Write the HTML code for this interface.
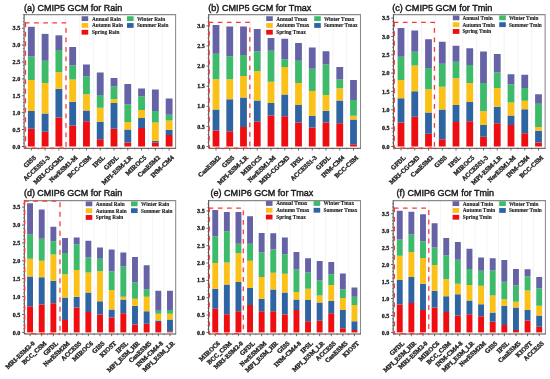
<!DOCTYPE html>
<html><head><meta charset="utf-8"><title>CMIP GCM stacked bars</title>
<style>
html,body{margin:0;padding:0;background:#fff;}
body{width:550px;height:379px;overflow:hidden;}
svg{display:block;will-change:transform;filter:blur(0.25px);}
.tk{font-family:"Liberation Serif",serif;font-weight:bold;font-size:6.1px;fill:#222;stroke:#222;stroke-width:0.3px;}
.xl{font-family:"Liberation Serif",serif;font-weight:bold;font-size:6.15px;fill:#2c2c2c;text-anchor:end;stroke:#2c2c2c;stroke-width:0.4px;}
.lg{font-family:"Liberation Serif",serif;font-weight:bold;font-size:5.7px;fill:#222;stroke:#222;stroke-width:0.12px;}
.ti{font-family:"Liberation Sans",sans-serif;font-size:8.6px;fill:#151515;stroke:#151515;stroke-width:0.38px;}
</style></head><body>
<svg width="550" height="379" viewBox="0 0 550 379">
<rect width="550" height="379" fill="#fff"/>
<line x1="38.21" y1="14.6" x2="38.21" y2="148.3" stroke="#ececec" stroke-width="0.6"/>
<line x1="51.99" y1="14.6" x2="51.99" y2="148.3" stroke="#ececec" stroke-width="0.6"/>
<line x1="65.77" y1="14.6" x2="65.77" y2="148.3" stroke="#ececec" stroke-width="0.6"/>
<line x1="79.55" y1="14.6" x2="79.55" y2="148.3" stroke="#ececec" stroke-width="0.6"/>
<line x1="93.33" y1="14.6" x2="93.33" y2="148.3" stroke="#ececec" stroke-width="0.6"/>
<line x1="107.11" y1="14.6" x2="107.11" y2="148.3" stroke="#ececec" stroke-width="0.6"/>
<line x1="120.89" y1="14.6" x2="120.89" y2="148.3" stroke="#ececec" stroke-width="0.6"/>
<line x1="134.68" y1="14.6" x2="134.68" y2="148.3" stroke="#ececec" stroke-width="0.6"/>
<line x1="148.46" y1="14.6" x2="148.46" y2="148.3" stroke="#ececec" stroke-width="0.6"/>
<line x1="162.24" y1="14.6" x2="162.24" y2="148.3" stroke="#ececec" stroke-width="0.6"/>
<rect x="27.9" y="128.75" width="6.85" height="17.75" fill="#ee0d10"/>
<rect x="27.9" y="111" width="6.85" height="17.75" fill="#2f64a3"/>
<rect x="27.9" y="80" width="6.85" height="31" fill="#fcc118"/>
<rect x="27.9" y="56.5" width="6.85" height="23.5" fill="#3dbb6b"/>
<rect x="27.9" y="26.8" width="6.85" height="29.7" fill="#6563a6"/>
<rect x="41.68" y="131.75" width="6.85" height="14.75" fill="#ee0d10"/>
<rect x="41.68" y="113.5" width="6.85" height="18.25" fill="#2f64a3"/>
<rect x="41.68" y="83" width="6.85" height="30.5" fill="#fcc118"/>
<rect x="41.68" y="60.75" width="6.85" height="22.25" fill="#3dbb6b"/>
<rect x="41.68" y="33.9" width="6.85" height="26.85" fill="#6563a6"/>
<rect x="55.46" y="117.5" width="6.85" height="29" fill="#ee0d10"/>
<rect x="55.46" y="88.75" width="6.85" height="28.75" fill="#2f64a3"/>
<rect x="55.46" y="72.25" width="6.85" height="16.5" fill="#fcc118"/>
<rect x="55.46" y="50" width="6.85" height="22.25" fill="#3dbb6b"/>
<rect x="55.46" y="35.3" width="6.85" height="14.7" fill="#6563a6"/>
<rect x="69.24" y="125.5" width="6.85" height="21" fill="#ee0d10"/>
<rect x="69.24" y="101.75" width="6.85" height="23.75" fill="#2f64a3"/>
<rect x="69.24" y="79.5" width="6.85" height="22.25" fill="#fcc118"/>
<rect x="69.24" y="65.5" width="6.85" height="14" fill="#3dbb6b"/>
<rect x="69.24" y="47" width="6.85" height="18.5" fill="#6563a6"/>
<rect x="83.02" y="121.25" width="6.85" height="25.25" fill="#ee0d10"/>
<rect x="83.02" y="110.5" width="6.85" height="10.75" fill="#2f64a3"/>
<rect x="83.02" y="94.25" width="6.85" height="16.25" fill="#fcc118"/>
<rect x="83.02" y="76.5" width="6.85" height="17.75" fill="#3dbb6b"/>
<rect x="83.02" y="64.5" width="6.85" height="12" fill="#6563a6"/>
<rect x="96.8" y="139.25" width="6.85" height="7.25" fill="#ee0d10"/>
<rect x="96.8" y="121.75" width="6.85" height="17.5" fill="#2f64a3"/>
<rect x="96.8" y="107.75" width="6.85" height="14" fill="#fcc118"/>
<rect x="96.8" y="95" width="6.85" height="12.75" fill="#3dbb6b"/>
<rect x="96.8" y="72.5" width="6.85" height="22.5" fill="#6563a6"/>
<rect x="110.58" y="128.75" width="6.85" height="17.75" fill="#ee0d10"/>
<rect x="110.58" y="103" width="6.85" height="25.75" fill="#2f64a3"/>
<rect x="110.58" y="99.25" width="6.85" height="3.75" fill="#fcc118"/>
<rect x="110.58" y="86.25" width="6.85" height="13" fill="#3dbb6b"/>
<rect x="110.58" y="78" width="6.85" height="8.25" fill="#6563a6"/>
<rect x="124.36" y="142.5" width="6.85" height="4" fill="#ee0d10"/>
<rect x="124.36" y="129.5" width="6.85" height="13" fill="#2f64a3"/>
<rect x="124.36" y="122" width="6.85" height="7.5" fill="#fcc118"/>
<rect x="124.36" y="104.5" width="6.85" height="17.5" fill="#3dbb6b"/>
<rect x="124.36" y="84" width="6.85" height="20.5" fill="#6563a6"/>
<rect x="138.14" y="128" width="6.85" height="18.5" fill="#ee0d10"/>
<rect x="138.14" y="118" width="6.85" height="10" fill="#2f64a3"/>
<rect x="138.14" y="110" width="6.85" height="8" fill="#fcc118"/>
<rect x="138.14" y="96.25" width="6.85" height="13.75" fill="#3dbb6b"/>
<rect x="138.14" y="88.5" width="6.85" height="7.75" fill="#6563a6"/>
<rect x="151.92" y="142.5" width="6.85" height="4" fill="#ee0d10"/>
<rect x="151.92" y="140.75" width="6.85" height="1.75" fill="#2f64a3"/>
<rect x="151.92" y="122.5" width="6.85" height="18.25" fill="#fcc118"/>
<rect x="151.92" y="111" width="6.85" height="11.5" fill="#3dbb6b"/>
<rect x="151.92" y="89.5" width="6.85" height="21.5" fill="#6563a6"/>
<rect x="165.7" y="135" width="6.85" height="11.5" fill="#ee0d10"/>
<rect x="165.7" y="129.75" width="6.85" height="5.25" fill="#2f64a3"/>
<rect x="165.7" y="120.5" width="6.85" height="9.25" fill="#fcc118"/>
<rect x="165.7" y="114.75" width="6.85" height="5.75" fill="#3dbb6b"/>
<rect x="165.7" y="98.5" width="6.85" height="16.25" fill="#6563a6"/>
<path d="M24.1 14.6H175.6V148.3" fill="none" stroke="#8a8a8a" stroke-width="1.05"/>
<path d="M24.1 14.1V148.3H176.1" fill="none" stroke="#4a4a4a" stroke-width="1"/>
<line x1="21.9" y1="146.5" x2="24.1" y2="146.5" stroke="#444" stroke-width="0.8"/>
<text x="12.6" y="148.6" class="tk" textLength="7.6" lengthAdjust="spacingAndGlyphs">0.0</text>
<line x1="21.9" y1="129.6" x2="24.1" y2="129.6" stroke="#444" stroke-width="0.8"/>
<text x="12.6" y="131.7" class="tk" textLength="7.6" lengthAdjust="spacingAndGlyphs">0.5</text>
<line x1="21.9" y1="112.7" x2="24.1" y2="112.7" stroke="#444" stroke-width="0.8"/>
<text x="12.6" y="114.8" class="tk" textLength="7.6" lengthAdjust="spacingAndGlyphs">1.0</text>
<line x1="21.9" y1="95.8" x2="24.1" y2="95.8" stroke="#444" stroke-width="0.8"/>
<text x="12.6" y="97.9" class="tk" textLength="7.6" lengthAdjust="spacingAndGlyphs">1.5</text>
<line x1="21.9" y1="78.9" x2="24.1" y2="78.9" stroke="#444" stroke-width="0.8"/>
<text x="12.6" y="81" class="tk" textLength="7.6" lengthAdjust="spacingAndGlyphs">2.0</text>
<line x1="21.9" y1="62" x2="24.1" y2="62" stroke="#444" stroke-width="0.8"/>
<text x="12.6" y="64.1" class="tk" textLength="7.6" lengthAdjust="spacingAndGlyphs">2.5</text>
<line x1="21.9" y1="45.1" x2="24.1" y2="45.1" stroke="#444" stroke-width="0.8"/>
<text x="12.6" y="47.2" class="tk" textLength="7.6" lengthAdjust="spacingAndGlyphs">3.0</text>
<line x1="21.9" y1="28.2" x2="24.1" y2="28.2" stroke="#444" stroke-width="0.8"/>
<text x="12.6" y="30.3" class="tk" textLength="7.6" lengthAdjust="spacingAndGlyphs">3.5</text>
<line x1="22.9" y1="143.12" x2="24.1" y2="143.12" stroke="#444" stroke-width="0.6"/>
<line x1="22.9" y1="139.74" x2="24.1" y2="139.74" stroke="#444" stroke-width="0.6"/>
<line x1="22.9" y1="136.36" x2="24.1" y2="136.36" stroke="#444" stroke-width="0.6"/>
<line x1="22.9" y1="132.98" x2="24.1" y2="132.98" stroke="#444" stroke-width="0.6"/>
<line x1="22.9" y1="126.22" x2="24.1" y2="126.22" stroke="#444" stroke-width="0.6"/>
<line x1="22.9" y1="122.84" x2="24.1" y2="122.84" stroke="#444" stroke-width="0.6"/>
<line x1="22.9" y1="119.46" x2="24.1" y2="119.46" stroke="#444" stroke-width="0.6"/>
<line x1="22.9" y1="116.08" x2="24.1" y2="116.08" stroke="#444" stroke-width="0.6"/>
<line x1="22.9" y1="109.32" x2="24.1" y2="109.32" stroke="#444" stroke-width="0.6"/>
<line x1="22.9" y1="105.94" x2="24.1" y2="105.94" stroke="#444" stroke-width="0.6"/>
<line x1="22.9" y1="102.56" x2="24.1" y2="102.56" stroke="#444" stroke-width="0.6"/>
<line x1="22.9" y1="99.18" x2="24.1" y2="99.18" stroke="#444" stroke-width="0.6"/>
<line x1="22.9" y1="92.42" x2="24.1" y2="92.42" stroke="#444" stroke-width="0.6"/>
<line x1="22.9" y1="89.04" x2="24.1" y2="89.04" stroke="#444" stroke-width="0.6"/>
<line x1="22.9" y1="85.66" x2="24.1" y2="85.66" stroke="#444" stroke-width="0.6"/>
<line x1="22.9" y1="82.28" x2="24.1" y2="82.28" stroke="#444" stroke-width="0.6"/>
<line x1="22.9" y1="75.52" x2="24.1" y2="75.52" stroke="#444" stroke-width="0.6"/>
<line x1="22.9" y1="72.14" x2="24.1" y2="72.14" stroke="#444" stroke-width="0.6"/>
<line x1="22.9" y1="68.76" x2="24.1" y2="68.76" stroke="#444" stroke-width="0.6"/>
<line x1="22.9" y1="65.38" x2="24.1" y2="65.38" stroke="#444" stroke-width="0.6"/>
<line x1="22.9" y1="58.62" x2="24.1" y2="58.62" stroke="#444" stroke-width="0.6"/>
<line x1="22.9" y1="55.24" x2="24.1" y2="55.24" stroke="#444" stroke-width="0.6"/>
<line x1="22.9" y1="51.86" x2="24.1" y2="51.86" stroke="#444" stroke-width="0.6"/>
<line x1="22.9" y1="48.48" x2="24.1" y2="48.48" stroke="#444" stroke-width="0.6"/>
<line x1="22.9" y1="41.72" x2="24.1" y2="41.72" stroke="#444" stroke-width="0.6"/>
<line x1="22.9" y1="38.34" x2="24.1" y2="38.34" stroke="#444" stroke-width="0.6"/>
<line x1="22.9" y1="34.96" x2="24.1" y2="34.96" stroke="#444" stroke-width="0.6"/>
<line x1="22.9" y1="31.58" x2="24.1" y2="31.58" stroke="#444" stroke-width="0.6"/>
<line x1="22.9" y1="24.82" x2="24.1" y2="24.82" stroke="#444" stroke-width="0.6"/>
<line x1="22.9" y1="21.44" x2="24.1" y2="21.44" stroke="#444" stroke-width="0.6"/>
<line x1="22.9" y1="18.06" x2="24.1" y2="18.06" stroke="#444" stroke-width="0.6"/>
<line x1="22.9" y1="14.68" x2="24.1" y2="14.68" stroke="#444" stroke-width="0.6"/>
<line x1="31.32" y1="148.3" x2="31.32" y2="150.5" stroke="#444" stroke-width="0.8"/>
<text transform="translate(36.52 158.1) scale(1.07 1) rotate(-45)" class="xl">GISS</text>
<line x1="45.1" y1="148.3" x2="45.1" y2="150.5" stroke="#444" stroke-width="0.8"/>
<text transform="translate(50.3 158.1) scale(1.07 1) rotate(-45)" class="xl">ACCESS1-3</text>
<line x1="58.88" y1="148.3" x2="58.88" y2="150.5" stroke="#444" stroke-width="0.8"/>
<text transform="translate(64.08 158.1) scale(1.07 1) rotate(-45)" class="xl">MRI-CGCM3</text>
<line x1="72.66" y1="148.3" x2="72.66" y2="150.5" stroke="#444" stroke-width="0.8"/>
<text transform="translate(77.86 158.1) scale(1.07 1) rotate(-45)" class="xl">NorESM1-M</text>
<line x1="86.44" y1="148.3" x2="86.44" y2="150.5" stroke="#444" stroke-width="0.8"/>
<text transform="translate(91.64 158.1) scale(1.07 1) rotate(-45)" class="xl">BCC-CSM</text>
<line x1="100.22" y1="148.3" x2="100.22" y2="150.5" stroke="#444" stroke-width="0.8"/>
<text transform="translate(105.42 158.1) scale(1.07 1) rotate(-45)" class="xl">IPSL</text>
<line x1="114" y1="148.3" x2="114" y2="150.5" stroke="#444" stroke-width="0.8"/>
<text transform="translate(119.2 158.1) scale(1.07 1) rotate(-45)" class="xl">GFDL</text>
<line x1="127.78" y1="148.3" x2="127.78" y2="150.5" stroke="#444" stroke-width="0.8"/>
<text transform="translate(132.98 158.1) scale(1.07 1) rotate(-45)" class="xl">MPI-ESM-LR</text>
<line x1="141.56" y1="148.3" x2="141.56" y2="150.5" stroke="#444" stroke-width="0.8"/>
<text transform="translate(146.76 158.1) scale(1.07 1) rotate(-45)" class="xl">MIROC5</text>
<line x1="155.34" y1="148.3" x2="155.34" y2="150.5" stroke="#444" stroke-width="0.8"/>
<text transform="translate(160.54 158.1) scale(1.07 1) rotate(-45)" class="xl">CanESM2</text>
<line x1="169.12" y1="148.3" x2="169.12" y2="150.5" stroke="#444" stroke-width="0.8"/>
<text transform="translate(174.32 158.1) scale(1.07 1) rotate(-45)" class="xl">INM-CM4</text>
<line x1="38.21" y1="148.3" x2="38.21" y2="149.5" stroke="#555" stroke-width="0.7"/>
<line x1="51.99" y1="148.3" x2="51.99" y2="149.5" stroke="#555" stroke-width="0.7"/>
<line x1="65.77" y1="148.3" x2="65.77" y2="149.5" stroke="#555" stroke-width="0.7"/>
<line x1="79.55" y1="148.3" x2="79.55" y2="149.5" stroke="#555" stroke-width="0.7"/>
<line x1="93.33" y1="148.3" x2="93.33" y2="149.5" stroke="#555" stroke-width="0.7"/>
<line x1="107.11" y1="148.3" x2="107.11" y2="149.5" stroke="#555" stroke-width="0.7"/>
<line x1="120.89" y1="148.3" x2="120.89" y2="149.5" stroke="#555" stroke-width="0.7"/>
<line x1="134.68" y1="148.3" x2="134.68" y2="149.5" stroke="#555" stroke-width="0.7"/>
<line x1="148.46" y1="148.3" x2="148.46" y2="149.5" stroke="#555" stroke-width="0.7"/>
<line x1="162.24" y1="148.3" x2="162.24" y2="149.5" stroke="#555" stroke-width="0.7"/>
<path d="M24.9 22.85H66.6" fill="none" stroke="#ff3636" stroke-width="1.25" stroke-dasharray="4.7 4.45"/>
<path d="M66 23.45V148" fill="none" stroke="#ff3636" stroke-width="1.25" stroke-dasharray="4.9 4.6" stroke-dashoffset="5"/>
<path d="M25.5 22.25V148" fill="none" stroke="#ff3636" stroke-width="1.25" stroke-dasharray="4.9 4.6"/>
<path d="M25.5 148H66" fill="none" stroke="#ff3636" stroke-width="1.25" stroke-dasharray="4.7 4.45" stroke-dashoffset="3"/>
<text x="24" y="11.2" class="ti" textLength="98.3" lengthAdjust="spacingAndGlyphs">(a) CMIP5 GCM for Rain</text>
<rect x="81.6" y="16.25" width="6.6" height="4.8" fill="#6563a6"/>
<text x="91.9" y="20.6" class="lg" textLength="29" lengthAdjust="spacingAndGlyphs">Annual Rain</text>
<rect x="81.6" y="23.05" width="6.6" height="4.8" fill="#fcc118"/>
<text x="91.9" y="27.4" class="lg" textLength="31.06" lengthAdjust="spacingAndGlyphs">Autumn Rain</text>
<rect x="81.6" y="29.85" width="6.6" height="4.8" fill="#ee0d10"/>
<text x="91.9" y="34.2" class="lg" textLength="27.53" lengthAdjust="spacingAndGlyphs">Spring Rain</text>
<rect x="127" y="16.25" width="6.6" height="4.8" fill="#3dbb6b"/>
<text x="136.9" y="20.6" class="lg" textLength="28.22" lengthAdjust="spacingAndGlyphs">Winter Rain</text>
<rect x="127" y="23.05" width="6.6" height="4.8" fill="#2f64a3"/>
<text x="136.9" y="27.4" class="lg" textLength="31.55" lengthAdjust="spacingAndGlyphs">Summer Rain</text>
<line x1="222.88" y1="14.6" x2="222.88" y2="148.3" stroke="#ececec" stroke-width="0.6"/>
<line x1="236.62" y1="14.6" x2="236.62" y2="148.3" stroke="#ececec" stroke-width="0.6"/>
<line x1="250.38" y1="14.6" x2="250.38" y2="148.3" stroke="#ececec" stroke-width="0.6"/>
<line x1="264.12" y1="14.6" x2="264.12" y2="148.3" stroke="#ececec" stroke-width="0.6"/>
<line x1="277.88" y1="14.6" x2="277.88" y2="148.3" stroke="#ececec" stroke-width="0.6"/>
<line x1="291.62" y1="14.6" x2="291.62" y2="148.3" stroke="#ececec" stroke-width="0.6"/>
<line x1="305.38" y1="14.6" x2="305.38" y2="148.3" stroke="#ececec" stroke-width="0.6"/>
<line x1="319.12" y1="14.6" x2="319.12" y2="148.3" stroke="#ececec" stroke-width="0.6"/>
<line x1="332.88" y1="14.6" x2="332.88" y2="148.3" stroke="#ececec" stroke-width="0.6"/>
<line x1="346.62" y1="14.6" x2="346.62" y2="148.3" stroke="#ececec" stroke-width="0.6"/>
<rect x="212.6" y="130.5" width="6.8" height="16" fill="#ee0d10"/>
<rect x="212.6" y="109.5" width="6.8" height="21" fill="#2f64a3"/>
<rect x="212.6" y="79.25" width="6.8" height="30.25" fill="#fcc118"/>
<rect x="212.6" y="53.75" width="6.8" height="25.5" fill="#3dbb6b"/>
<rect x="212.6" y="25" width="6.8" height="28.75" fill="#6563a6"/>
<rect x="226.35" y="131.25" width="6.8" height="15.25" fill="#ee0d10"/>
<rect x="226.35" y="99.25" width="6.8" height="32" fill="#2f64a3"/>
<rect x="226.35" y="79.25" width="6.8" height="20" fill="#fcc118"/>
<rect x="226.35" y="56.25" width="6.8" height="23" fill="#3dbb6b"/>
<rect x="226.35" y="26.5" width="6.8" height="29.75" fill="#6563a6"/>
<rect x="240.1" y="127" width="6.8" height="19.5" fill="#ee0d10"/>
<rect x="240.1" y="97.5" width="6.8" height="29.5" fill="#2f64a3"/>
<rect x="240.1" y="76" width="6.8" height="21.5" fill="#fcc118"/>
<rect x="240.1" y="55" width="6.8" height="21" fill="#3dbb6b"/>
<rect x="240.1" y="26.5" width="6.8" height="28.5" fill="#6563a6"/>
<rect x="253.85" y="121.5" width="6.8" height="25" fill="#ee0d10"/>
<rect x="253.85" y="100.5" width="6.8" height="21" fill="#2f64a3"/>
<rect x="253.85" y="71.25" width="6.8" height="29.25" fill="#fcc118"/>
<rect x="253.85" y="51.5" width="6.8" height="19.75" fill="#3dbb6b"/>
<rect x="253.85" y="29" width="6.8" height="22.5" fill="#6563a6"/>
<rect x="267.6" y="115.5" width="6.8" height="31" fill="#ee0d10"/>
<rect x="267.6" y="103" width="6.8" height="12.5" fill="#2f64a3"/>
<rect x="267.6" y="81.75" width="6.8" height="21.25" fill="#fcc118"/>
<rect x="267.6" y="50.75" width="6.8" height="31" fill="#3dbb6b"/>
<rect x="267.6" y="38" width="6.8" height="12.75" fill="#6563a6"/>
<rect x="281.35" y="116.25" width="6.8" height="30.25" fill="#ee0d10"/>
<rect x="281.35" y="94.5" width="6.8" height="21.75" fill="#2f64a3"/>
<rect x="281.35" y="67" width="6.8" height="27.5" fill="#fcc118"/>
<rect x="281.35" y="59.25" width="6.8" height="7.75" fill="#3dbb6b"/>
<rect x="281.35" y="38.75" width="6.8" height="20.5" fill="#6563a6"/>
<rect x="295.1" y="122.5" width="6.8" height="24" fill="#ee0d10"/>
<rect x="295.1" y="105" width="6.8" height="17.5" fill="#2f64a3"/>
<rect x="295.1" y="83" width="6.8" height="22" fill="#fcc118"/>
<rect x="295.1" y="60.75" width="6.8" height="22.25" fill="#3dbb6b"/>
<rect x="295.1" y="43" width="6.8" height="17.75" fill="#6563a6"/>
<rect x="308.85" y="127.5" width="6.8" height="19" fill="#ee0d10"/>
<rect x="308.85" y="115.75" width="6.8" height="11.75" fill="#2f64a3"/>
<rect x="308.85" y="91" width="6.8" height="24.75" fill="#fcc118"/>
<rect x="308.85" y="68.75" width="6.8" height="22.25" fill="#3dbb6b"/>
<rect x="308.85" y="47.5" width="6.8" height="21.25" fill="#6563a6"/>
<rect x="322.6" y="122.5" width="6.8" height="24" fill="#ee0d10"/>
<rect x="322.6" y="110.75" width="6.8" height="11.75" fill="#2f64a3"/>
<rect x="322.6" y="95" width="6.8" height="15.75" fill="#fcc118"/>
<rect x="322.6" y="64.5" width="6.8" height="30.5" fill="#3dbb6b"/>
<rect x="322.6" y="51.25" width="6.8" height="13.25" fill="#6563a6"/>
<rect x="336.35" y="123.25" width="6.8" height="23.25" fill="#ee0d10"/>
<rect x="336.35" y="100.5" width="6.8" height="22.75" fill="#2f64a3"/>
<rect x="336.35" y="88.25" width="6.8" height="12.25" fill="#fcc118"/>
<rect x="336.35" y="79.5" width="6.8" height="8.75" fill="#3dbb6b"/>
<rect x="336.35" y="67" width="6.8" height="12.5" fill="#6563a6"/>
<rect x="350.1" y="144.25" width="6.8" height="2.25" fill="#ee0d10"/>
<rect x="350.1" y="119.5" width="6.8" height="24.75" fill="#2f64a3"/>
<rect x="350.1" y="115.75" width="6.8" height="3.75" fill="#fcc118"/>
<rect x="350.1" y="100" width="6.8" height="15.75" fill="#3dbb6b"/>
<rect x="350.1" y="80" width="6.8" height="20" fill="#6563a6"/>
<path d="M208.7 14.6H360.5V148.3" fill="none" stroke="#8a8a8a" stroke-width="1.05"/>
<path d="M208.7 14.1V148.3H361" fill="none" stroke="#4a4a4a" stroke-width="1"/>
<line x1="206.5" y1="146.5" x2="208.7" y2="146.5" stroke="#444" stroke-width="0.8"/>
<text x="197.2" y="148.6" class="tk" textLength="7.6" lengthAdjust="spacingAndGlyphs">0.0</text>
<line x1="206.5" y1="126.4" x2="208.7" y2="126.4" stroke="#444" stroke-width="0.8"/>
<text x="197.2" y="128.5" class="tk" textLength="7.6" lengthAdjust="spacingAndGlyphs">0.5</text>
<line x1="206.5" y1="106.3" x2="208.7" y2="106.3" stroke="#444" stroke-width="0.8"/>
<text x="197.2" y="108.4" class="tk" textLength="7.6" lengthAdjust="spacingAndGlyphs">1.0</text>
<line x1="206.5" y1="86.2" x2="208.7" y2="86.2" stroke="#444" stroke-width="0.8"/>
<text x="197.2" y="88.3" class="tk" textLength="7.6" lengthAdjust="spacingAndGlyphs">1.5</text>
<line x1="206.5" y1="66.1" x2="208.7" y2="66.1" stroke="#444" stroke-width="0.8"/>
<text x="197.2" y="68.2" class="tk" textLength="7.6" lengthAdjust="spacingAndGlyphs">2.0</text>
<line x1="206.5" y1="46" x2="208.7" y2="46" stroke="#444" stroke-width="0.8"/>
<text x="197.2" y="48.1" class="tk" textLength="7.6" lengthAdjust="spacingAndGlyphs">2.5</text>
<line x1="206.5" y1="25.9" x2="208.7" y2="25.9" stroke="#444" stroke-width="0.8"/>
<text x="197.2" y="28" class="tk" textLength="7.6" lengthAdjust="spacingAndGlyphs">3.0</text>
<line x1="207.5" y1="142.48" x2="208.7" y2="142.48" stroke="#444" stroke-width="0.6"/>
<line x1="207.5" y1="138.46" x2="208.7" y2="138.46" stroke="#444" stroke-width="0.6"/>
<line x1="207.5" y1="134.44" x2="208.7" y2="134.44" stroke="#444" stroke-width="0.6"/>
<line x1="207.5" y1="130.42" x2="208.7" y2="130.42" stroke="#444" stroke-width="0.6"/>
<line x1="207.5" y1="122.38" x2="208.7" y2="122.38" stroke="#444" stroke-width="0.6"/>
<line x1="207.5" y1="118.36" x2="208.7" y2="118.36" stroke="#444" stroke-width="0.6"/>
<line x1="207.5" y1="114.34" x2="208.7" y2="114.34" stroke="#444" stroke-width="0.6"/>
<line x1="207.5" y1="110.32" x2="208.7" y2="110.32" stroke="#444" stroke-width="0.6"/>
<line x1="207.5" y1="102.28" x2="208.7" y2="102.28" stroke="#444" stroke-width="0.6"/>
<line x1="207.5" y1="98.26" x2="208.7" y2="98.26" stroke="#444" stroke-width="0.6"/>
<line x1="207.5" y1="94.24" x2="208.7" y2="94.24" stroke="#444" stroke-width="0.6"/>
<line x1="207.5" y1="90.22" x2="208.7" y2="90.22" stroke="#444" stroke-width="0.6"/>
<line x1="207.5" y1="82.18" x2="208.7" y2="82.18" stroke="#444" stroke-width="0.6"/>
<line x1="207.5" y1="78.16" x2="208.7" y2="78.16" stroke="#444" stroke-width="0.6"/>
<line x1="207.5" y1="74.14" x2="208.7" y2="74.14" stroke="#444" stroke-width="0.6"/>
<line x1="207.5" y1="70.12" x2="208.7" y2="70.12" stroke="#444" stroke-width="0.6"/>
<line x1="207.5" y1="62.08" x2="208.7" y2="62.08" stroke="#444" stroke-width="0.6"/>
<line x1="207.5" y1="58.06" x2="208.7" y2="58.06" stroke="#444" stroke-width="0.6"/>
<line x1="207.5" y1="54.04" x2="208.7" y2="54.04" stroke="#444" stroke-width="0.6"/>
<line x1="207.5" y1="50.02" x2="208.7" y2="50.02" stroke="#444" stroke-width="0.6"/>
<line x1="207.5" y1="41.98" x2="208.7" y2="41.98" stroke="#444" stroke-width="0.6"/>
<line x1="207.5" y1="37.96" x2="208.7" y2="37.96" stroke="#444" stroke-width="0.6"/>
<line x1="207.5" y1="33.94" x2="208.7" y2="33.94" stroke="#444" stroke-width="0.6"/>
<line x1="207.5" y1="29.92" x2="208.7" y2="29.92" stroke="#444" stroke-width="0.6"/>
<line x1="207.5" y1="21.88" x2="208.7" y2="21.88" stroke="#444" stroke-width="0.6"/>
<line x1="207.5" y1="17.86" x2="208.7" y2="17.86" stroke="#444" stroke-width="0.6"/>
<line x1="216" y1="148.3" x2="216" y2="150.5" stroke="#444" stroke-width="0.8"/>
<text transform="translate(221.2 158.1) scale(1.07 1) rotate(-45)" class="xl">CanESM2</text>
<line x1="229.75" y1="148.3" x2="229.75" y2="150.5" stroke="#444" stroke-width="0.8"/>
<text transform="translate(234.95 158.1) scale(1.07 1) rotate(-45)" class="xl">GISS</text>
<line x1="243.5" y1="148.3" x2="243.5" y2="150.5" stroke="#444" stroke-width="0.8"/>
<text transform="translate(248.7 158.1) scale(1.07 1) rotate(-45)" class="xl">MPI-ESM-LR</text>
<line x1="257.25" y1="148.3" x2="257.25" y2="150.5" stroke="#444" stroke-width="0.8"/>
<text transform="translate(262.45 158.1) scale(1.07 1) rotate(-45)" class="xl">MIROC5</text>
<line x1="271" y1="148.3" x2="271" y2="150.5" stroke="#444" stroke-width="0.8"/>
<text transform="translate(276.2 158.1) scale(1.07 1) rotate(-45)" class="xl">NorESM1-M</text>
<line x1="284.75" y1="148.3" x2="284.75" y2="150.5" stroke="#444" stroke-width="0.8"/>
<text transform="translate(289.95 158.1) scale(1.07 1) rotate(-45)" class="xl">MRI-CGCM3</text>
<line x1="298.5" y1="148.3" x2="298.5" y2="150.5" stroke="#444" stroke-width="0.8"/>
<text transform="translate(303.7 158.1) scale(1.07 1) rotate(-45)" class="xl">IPSL</text>
<line x1="312.25" y1="148.3" x2="312.25" y2="150.5" stroke="#444" stroke-width="0.8"/>
<text transform="translate(317.45 158.1) scale(1.07 1) rotate(-45)" class="xl">ACCESS1-3</text>
<line x1="326" y1="148.3" x2="326" y2="150.5" stroke="#444" stroke-width="0.8"/>
<text transform="translate(331.2 158.1) scale(1.07 1) rotate(-45)" class="xl">GFDL</text>
<line x1="339.75" y1="148.3" x2="339.75" y2="150.5" stroke="#444" stroke-width="0.8"/>
<text transform="translate(344.95 158.1) scale(1.07 1) rotate(-45)" class="xl">INM-CM4</text>
<line x1="353.5" y1="148.3" x2="353.5" y2="150.5" stroke="#444" stroke-width="0.8"/>
<text transform="translate(358.7 158.1) scale(1.07 1) rotate(-45)" class="xl">BCC-CSM</text>
<line x1="222.88" y1="148.3" x2="222.88" y2="149.5" stroke="#555" stroke-width="0.7"/>
<line x1="236.62" y1="148.3" x2="236.62" y2="149.5" stroke="#555" stroke-width="0.7"/>
<line x1="250.38" y1="148.3" x2="250.38" y2="149.5" stroke="#555" stroke-width="0.7"/>
<line x1="264.12" y1="148.3" x2="264.12" y2="149.5" stroke="#555" stroke-width="0.7"/>
<line x1="277.88" y1="148.3" x2="277.88" y2="149.5" stroke="#555" stroke-width="0.7"/>
<line x1="291.62" y1="148.3" x2="291.62" y2="149.5" stroke="#555" stroke-width="0.7"/>
<line x1="305.38" y1="148.3" x2="305.38" y2="149.5" stroke="#555" stroke-width="0.7"/>
<line x1="319.12" y1="148.3" x2="319.12" y2="149.5" stroke="#555" stroke-width="0.7"/>
<line x1="332.88" y1="148.3" x2="332.88" y2="149.5" stroke="#555" stroke-width="0.7"/>
<line x1="346.62" y1="148.3" x2="346.62" y2="149.5" stroke="#555" stroke-width="0.7"/>
<path d="M208.6 22.4H250.4" fill="none" stroke="#ff3636" stroke-width="1.25" stroke-dasharray="4.7 4.45"/>
<path d="M249.8 23V148" fill="none" stroke="#ff3636" stroke-width="1.25" stroke-dasharray="4.9 4.6" stroke-dashoffset="5.1"/>
<path d="M209.2 21.8V148" fill="none" stroke="#ff3636" stroke-width="1.25" stroke-dasharray="4.9 4.6"/>
<path d="M209.2 148H249.8" fill="none" stroke="#ff3636" stroke-width="1.25" stroke-dasharray="4.7 4.45" stroke-dashoffset="3"/>
<text x="208.3" y="11.2" class="ti" textLength="103" lengthAdjust="spacingAndGlyphs">(b) CMIP5 GCM for Tmax</text>
<rect x="266.2" y="16.25" width="6.6" height="4.8" fill="#6563a6"/>
<text x="276.2" y="20.6" class="lg" textLength="31.27" lengthAdjust="spacingAndGlyphs">Annual Tmax</text>
<rect x="266.2" y="23.05" width="6.6" height="4.8" fill="#fcc118"/>
<text x="276.2" y="27.4" class="lg" textLength="33.31" lengthAdjust="spacingAndGlyphs">Autumn Tmax</text>
<rect x="266.2" y="29.85" width="6.6" height="4.8" fill="#ee0d10"/>
<text x="276.2" y="34.2" class="lg" textLength="29.78" lengthAdjust="spacingAndGlyphs">Spring Tmax</text>
<rect x="314.2" y="16.25" width="6.6" height="4.8" fill="#3dbb6b"/>
<text x="323.9" y="20.6" class="lg" textLength="30.47" lengthAdjust="spacingAndGlyphs">Winter Tmax</text>
<rect x="314.2" y="23.05" width="6.6" height="4.8" fill="#2f64a3"/>
<text x="323.9" y="27.4" class="lg" textLength="33.8" lengthAdjust="spacingAndGlyphs">Summer Tmax</text>
<line x1="394.12" y1="14.6" x2="394.12" y2="148.3" stroke="#ececec" stroke-width="0.6"/>
<line x1="407.88" y1="14.6" x2="407.88" y2="148.3" stroke="#ececec" stroke-width="0.6"/>
<line x1="421.62" y1="14.6" x2="421.62" y2="148.3" stroke="#ececec" stroke-width="0.6"/>
<line x1="435.38" y1="14.6" x2="435.38" y2="148.3" stroke="#ececec" stroke-width="0.6"/>
<line x1="449.12" y1="14.6" x2="449.12" y2="148.3" stroke="#ececec" stroke-width="0.6"/>
<line x1="462.88" y1="14.6" x2="462.88" y2="148.3" stroke="#ececec" stroke-width="0.6"/>
<line x1="476.62" y1="14.6" x2="476.62" y2="148.3" stroke="#ececec" stroke-width="0.6"/>
<line x1="490.38" y1="14.6" x2="490.38" y2="148.3" stroke="#ececec" stroke-width="0.6"/>
<line x1="504.12" y1="14.6" x2="504.12" y2="148.3" stroke="#ececec" stroke-width="0.6"/>
<line x1="517.88" y1="14.6" x2="517.88" y2="148.3" stroke="#ececec" stroke-width="0.6"/>
<line x1="531.62" y1="14.6" x2="531.62" y2="148.3" stroke="#ececec" stroke-width="0.6"/>
<rect x="397.6" y="122.5" width="6.8" height="24" fill="#ee0d10"/>
<rect x="397.6" y="98.25" width="6.8" height="24.25" fill="#2f64a3"/>
<rect x="397.6" y="80" width="6.8" height="18.25" fill="#fcc118"/>
<rect x="397.6" y="56.75" width="6.8" height="23.25" fill="#3dbb6b"/>
<rect x="397.6" y="28" width="6.8" height="28.75" fill="#6563a6"/>
<rect x="411.35" y="116.75" width="6.8" height="29.75" fill="#ee0d10"/>
<rect x="411.35" y="91.25" width="6.8" height="25.5" fill="#2f64a3"/>
<rect x="411.35" y="65.5" width="6.8" height="25.75" fill="#fcc118"/>
<rect x="411.35" y="51.75" width="6.8" height="13.75" fill="#3dbb6b"/>
<rect x="411.35" y="30.5" width="6.8" height="21.25" fill="#6563a6"/>
<rect x="425.1" y="133.75" width="6.8" height="12.75" fill="#ee0d10"/>
<rect x="425.1" y="112.5" width="6.8" height="21.25" fill="#2f64a3"/>
<rect x="425.1" y="89.25" width="6.8" height="23.25" fill="#fcc118"/>
<rect x="425.1" y="68" width="6.8" height="21.25" fill="#3dbb6b"/>
<rect x="425.1" y="39.25" width="6.8" height="28.75" fill="#6563a6"/>
<rect x="438.85" y="139.25" width="6.8" height="7.25" fill="#ee0d10"/>
<rect x="438.85" y="109.5" width="6.8" height="29.75" fill="#2f64a3"/>
<rect x="438.85" y="86.75" width="6.8" height="22.75" fill="#fcc118"/>
<rect x="438.85" y="63.75" width="6.8" height="23" fill="#3dbb6b"/>
<rect x="438.85" y="41.75" width="6.8" height="22" fill="#6563a6"/>
<rect x="452.6" y="122" width="6.8" height="24.5" fill="#ee0d10"/>
<rect x="452.6" y="105" width="6.8" height="17" fill="#2f64a3"/>
<rect x="452.6" y="78.25" width="6.8" height="26.75" fill="#fcc118"/>
<rect x="452.6" y="61.75" width="6.8" height="16.5" fill="#3dbb6b"/>
<rect x="452.6" y="45.75" width="6.8" height="16" fill="#6563a6"/>
<rect x="466.35" y="121.25" width="6.8" height="25.25" fill="#ee0d10"/>
<rect x="466.35" y="102" width="6.8" height="19.25" fill="#2f64a3"/>
<rect x="466.35" y="83" width="6.8" height="19" fill="#fcc118"/>
<rect x="466.35" y="65" width="6.8" height="18" fill="#3dbb6b"/>
<rect x="466.35" y="48.25" width="6.8" height="16.75" fill="#6563a6"/>
<rect x="480.1" y="136.75" width="6.8" height="9.75" fill="#ee0d10"/>
<rect x="480.1" y="125" width="6.8" height="11.75" fill="#2f64a3"/>
<rect x="480.1" y="111.25" width="6.8" height="13.75" fill="#fcc118"/>
<rect x="480.1" y="83" width="6.8" height="28.25" fill="#3dbb6b"/>
<rect x="480.1" y="51.5" width="6.8" height="31.5" fill="#6563a6"/>
<rect x="493.85" y="123.25" width="6.8" height="23.25" fill="#ee0d10"/>
<rect x="493.85" y="106.75" width="6.8" height="16.5" fill="#2f64a3"/>
<rect x="493.85" y="88" width="6.8" height="18.75" fill="#fcc118"/>
<rect x="493.85" y="72.5" width="6.8" height="15.5" fill="#3dbb6b"/>
<rect x="493.85" y="54" width="6.8" height="18.5" fill="#6563a6"/>
<rect x="507.6" y="125" width="6.8" height="21.5" fill="#ee0d10"/>
<rect x="507.6" y="115.5" width="6.8" height="9.5" fill="#2f64a3"/>
<rect x="507.6" y="102.5" width="6.8" height="13" fill="#fcc118"/>
<rect x="507.6" y="84.25" width="6.8" height="18.25" fill="#3dbb6b"/>
<rect x="507.6" y="74.25" width="6.8" height="10" fill="#6563a6"/>
<rect x="521.35" y="133.25" width="6.8" height="13.25" fill="#ee0d10"/>
<rect x="521.35" y="109.25" width="6.8" height="24" fill="#2f64a3"/>
<rect x="521.35" y="100.75" width="6.8" height="8.5" fill="#fcc118"/>
<rect x="521.35" y="88" width="6.8" height="12.75" fill="#3dbb6b"/>
<rect x="521.35" y="74.75" width="6.8" height="13.25" fill="#6563a6"/>
<rect x="535.1" y="142.5" width="6.8" height="4" fill="#ee0d10"/>
<rect x="535.1" y="130.75" width="6.8" height="11.75" fill="#2f64a3"/>
<rect x="535.1" y="127" width="6.8" height="3.75" fill="#fcc118"/>
<rect x="535.1" y="103.75" width="6.8" height="23.25" fill="#3dbb6b"/>
<rect x="535.1" y="94.25" width="6.8" height="9.5" fill="#6563a6"/>
<path d="M393.4 14.6H545.1V148.3" fill="none" stroke="#8a8a8a" stroke-width="1.05"/>
<path d="M393.4 14.1V148.3H545.6" fill="none" stroke="#4a4a4a" stroke-width="1"/>
<line x1="391.2" y1="146.5" x2="393.4" y2="146.5" stroke="#444" stroke-width="0.8"/>
<text x="381.9" y="148.6" class="tk" textLength="7.6" lengthAdjust="spacingAndGlyphs">0.0</text>
<line x1="391.2" y1="128.15" x2="393.4" y2="128.15" stroke="#444" stroke-width="0.8"/>
<text x="381.9" y="130.25" class="tk" textLength="7.6" lengthAdjust="spacingAndGlyphs">0.5</text>
<line x1="391.2" y1="109.8" x2="393.4" y2="109.8" stroke="#444" stroke-width="0.8"/>
<text x="381.9" y="111.9" class="tk" textLength="7.6" lengthAdjust="spacingAndGlyphs">1.0</text>
<line x1="391.2" y1="91.45" x2="393.4" y2="91.45" stroke="#444" stroke-width="0.8"/>
<text x="381.9" y="93.55" class="tk" textLength="7.6" lengthAdjust="spacingAndGlyphs">1.5</text>
<line x1="391.2" y1="73.1" x2="393.4" y2="73.1" stroke="#444" stroke-width="0.8"/>
<text x="381.9" y="75.2" class="tk" textLength="7.6" lengthAdjust="spacingAndGlyphs">2.0</text>
<line x1="391.2" y1="54.75" x2="393.4" y2="54.75" stroke="#444" stroke-width="0.8"/>
<text x="381.9" y="56.85" class="tk" textLength="7.6" lengthAdjust="spacingAndGlyphs">2.5</text>
<line x1="391.2" y1="36.4" x2="393.4" y2="36.4" stroke="#444" stroke-width="0.8"/>
<text x="381.9" y="38.5" class="tk" textLength="7.6" lengthAdjust="spacingAndGlyphs">3.0</text>
<line x1="391.2" y1="18.05" x2="393.4" y2="18.05" stroke="#444" stroke-width="0.8"/>
<text x="381.9" y="20.15" class="tk" textLength="7.6" lengthAdjust="spacingAndGlyphs">3.5</text>
<line x1="392.2" y1="142.83" x2="393.4" y2="142.83" stroke="#444" stroke-width="0.6"/>
<line x1="392.2" y1="139.16" x2="393.4" y2="139.16" stroke="#444" stroke-width="0.6"/>
<line x1="392.2" y1="135.49" x2="393.4" y2="135.49" stroke="#444" stroke-width="0.6"/>
<line x1="392.2" y1="131.82" x2="393.4" y2="131.82" stroke="#444" stroke-width="0.6"/>
<line x1="392.2" y1="124.48" x2="393.4" y2="124.48" stroke="#444" stroke-width="0.6"/>
<line x1="392.2" y1="120.81" x2="393.4" y2="120.81" stroke="#444" stroke-width="0.6"/>
<line x1="392.2" y1="117.14" x2="393.4" y2="117.14" stroke="#444" stroke-width="0.6"/>
<line x1="392.2" y1="113.47" x2="393.4" y2="113.47" stroke="#444" stroke-width="0.6"/>
<line x1="392.2" y1="106.13" x2="393.4" y2="106.13" stroke="#444" stroke-width="0.6"/>
<line x1="392.2" y1="102.46" x2="393.4" y2="102.46" stroke="#444" stroke-width="0.6"/>
<line x1="392.2" y1="98.79" x2="393.4" y2="98.79" stroke="#444" stroke-width="0.6"/>
<line x1="392.2" y1="95.12" x2="393.4" y2="95.12" stroke="#444" stroke-width="0.6"/>
<line x1="392.2" y1="87.78" x2="393.4" y2="87.78" stroke="#444" stroke-width="0.6"/>
<line x1="392.2" y1="84.11" x2="393.4" y2="84.11" stroke="#444" stroke-width="0.6"/>
<line x1="392.2" y1="80.44" x2="393.4" y2="80.44" stroke="#444" stroke-width="0.6"/>
<line x1="392.2" y1="76.77" x2="393.4" y2="76.77" stroke="#444" stroke-width="0.6"/>
<line x1="392.2" y1="69.43" x2="393.4" y2="69.43" stroke="#444" stroke-width="0.6"/>
<line x1="392.2" y1="65.76" x2="393.4" y2="65.76" stroke="#444" stroke-width="0.6"/>
<line x1="392.2" y1="62.09" x2="393.4" y2="62.09" stroke="#444" stroke-width="0.6"/>
<line x1="392.2" y1="58.42" x2="393.4" y2="58.42" stroke="#444" stroke-width="0.6"/>
<line x1="392.2" y1="51.08" x2="393.4" y2="51.08" stroke="#444" stroke-width="0.6"/>
<line x1="392.2" y1="47.41" x2="393.4" y2="47.41" stroke="#444" stroke-width="0.6"/>
<line x1="392.2" y1="43.74" x2="393.4" y2="43.74" stroke="#444" stroke-width="0.6"/>
<line x1="392.2" y1="40.07" x2="393.4" y2="40.07" stroke="#444" stroke-width="0.6"/>
<line x1="392.2" y1="32.73" x2="393.4" y2="32.73" stroke="#444" stroke-width="0.6"/>
<line x1="392.2" y1="29.06" x2="393.4" y2="29.06" stroke="#444" stroke-width="0.6"/>
<line x1="392.2" y1="25.39" x2="393.4" y2="25.39" stroke="#444" stroke-width="0.6"/>
<line x1="392.2" y1="21.72" x2="393.4" y2="21.72" stroke="#444" stroke-width="0.6"/>
<line x1="401" y1="148.3" x2="401" y2="150.5" stroke="#444" stroke-width="0.8"/>
<text transform="translate(406.2 158.1) scale(1.07 1) rotate(-45)" class="xl">GFDL</text>
<line x1="414.75" y1="148.3" x2="414.75" y2="150.5" stroke="#444" stroke-width="0.8"/>
<text transform="translate(419.95 158.1) scale(1.07 1) rotate(-45)" class="xl">MRI-CGCM3</text>
<line x1="428.5" y1="148.3" x2="428.5" y2="150.5" stroke="#444" stroke-width="0.8"/>
<text transform="translate(433.7 158.1) scale(1.07 1) rotate(-45)" class="xl">CanESM2</text>
<line x1="442.25" y1="148.3" x2="442.25" y2="150.5" stroke="#444" stroke-width="0.8"/>
<text transform="translate(447.45 158.1) scale(1.07 1) rotate(-45)" class="xl">GISS</text>
<line x1="456" y1="148.3" x2="456" y2="150.5" stroke="#444" stroke-width="0.8"/>
<text transform="translate(461.2 158.1) scale(1.07 1) rotate(-45)" class="xl">IPSL</text>
<line x1="469.75" y1="148.3" x2="469.75" y2="150.5" stroke="#444" stroke-width="0.8"/>
<text transform="translate(474.95 158.1) scale(1.07 1) rotate(-45)" class="xl">MIROC5</text>
<line x1="483.5" y1="148.3" x2="483.5" y2="150.5" stroke="#444" stroke-width="0.8"/>
<text transform="translate(488.7 158.1) scale(1.07 1) rotate(-45)" class="xl">ACCESS1-3</text>
<line x1="497.25" y1="148.3" x2="497.25" y2="150.5" stroke="#444" stroke-width="0.8"/>
<text transform="translate(502.45 158.1) scale(1.07 1) rotate(-45)" class="xl">MPI-ESM-LR</text>
<line x1="511" y1="148.3" x2="511" y2="150.5" stroke="#444" stroke-width="0.8"/>
<text transform="translate(516.2 158.1) scale(1.07 1) rotate(-45)" class="xl">NorESM1-M</text>
<line x1="524.75" y1="148.3" x2="524.75" y2="150.5" stroke="#444" stroke-width="0.8"/>
<text transform="translate(529.95 158.1) scale(1.07 1) rotate(-45)" class="xl">INM-CM4</text>
<line x1="538.5" y1="148.3" x2="538.5" y2="150.5" stroke="#444" stroke-width="0.8"/>
<text transform="translate(543.7 158.1) scale(1.07 1) rotate(-45)" class="xl">BCC-CSM</text>
<line x1="394.12" y1="148.3" x2="394.12" y2="149.5" stroke="#555" stroke-width="0.7"/>
<line x1="407.88" y1="148.3" x2="407.88" y2="149.5" stroke="#555" stroke-width="0.7"/>
<line x1="421.62" y1="148.3" x2="421.62" y2="149.5" stroke="#555" stroke-width="0.7"/>
<line x1="435.38" y1="148.3" x2="435.38" y2="149.5" stroke="#555" stroke-width="0.7"/>
<line x1="449.12" y1="148.3" x2="449.12" y2="149.5" stroke="#555" stroke-width="0.7"/>
<line x1="462.88" y1="148.3" x2="462.88" y2="149.5" stroke="#555" stroke-width="0.7"/>
<line x1="476.62" y1="148.3" x2="476.62" y2="149.5" stroke="#555" stroke-width="0.7"/>
<line x1="490.38" y1="148.3" x2="490.38" y2="149.5" stroke="#555" stroke-width="0.7"/>
<line x1="504.12" y1="148.3" x2="504.12" y2="149.5" stroke="#555" stroke-width="0.7"/>
<line x1="517.88" y1="148.3" x2="517.88" y2="149.5" stroke="#555" stroke-width="0.7"/>
<line x1="531.62" y1="148.3" x2="531.62" y2="149.5" stroke="#555" stroke-width="0.7"/>
<path d="M393.7 22.45H435" fill="none" stroke="#ff3636" stroke-width="1.25" stroke-dasharray="4.7 4.45"/>
<path d="M434.4 23.05V148" fill="none" stroke="#ff3636" stroke-width="1.25" stroke-dasharray="4.9 4.6" stroke-dashoffset="4.6"/>
<path d="M394.3 21.85V148" fill="none" stroke="#ff3636" stroke-width="1.25" stroke-dasharray="4.9 4.6"/>
<path d="M394.3 148H434.4" fill="none" stroke="#ff3636" stroke-width="1.25" stroke-dasharray="4.7 4.45" stroke-dashoffset="3"/>
<text x="392.2" y="11.2" class="ti" textLength="100.1" lengthAdjust="spacingAndGlyphs">(c) CMIP5 GCM for Tmin</text>
<rect x="452.8" y="15.45" width="6.6" height="4.8" fill="#6563a6"/>
<text x="462.4" y="19.8" class="lg" textLength="30.38" lengthAdjust="spacingAndGlyphs">Annual Tmin</text>
<rect x="452.8" y="22.25" width="6.6" height="4.8" fill="#fcc118"/>
<text x="462.4" y="26.6" class="lg" textLength="32.44" lengthAdjust="spacingAndGlyphs">Autumn Tmin</text>
<rect x="452.8" y="29.05" width="6.6" height="4.8" fill="#ee0d10"/>
<text x="462.4" y="33.4" class="lg" textLength="28.91" lengthAdjust="spacingAndGlyphs">Spring Tmin</text>
<rect x="499.2" y="15.45" width="6.6" height="4.8" fill="#3dbb6b"/>
<text x="508.9" y="19.8" class="lg" textLength="29.59" lengthAdjust="spacingAndGlyphs">Winter Tmin</text>
<rect x="499.2" y="22.25" width="6.6" height="4.8" fill="#2f64a3"/>
<text x="508.9" y="26.6" class="lg" textLength="32.92" lengthAdjust="spacingAndGlyphs">Summer Tmin</text>
<line x1="35.88" y1="200.6" x2="35.88" y2="334" stroke="#ececec" stroke-width="0.6"/>
<line x1="47.54" y1="200.6" x2="47.54" y2="334" stroke="#ececec" stroke-width="0.6"/>
<line x1="59.2" y1="200.6" x2="59.2" y2="334" stroke="#ececec" stroke-width="0.6"/>
<line x1="70.86" y1="200.6" x2="70.86" y2="334" stroke="#ececec" stroke-width="0.6"/>
<line x1="82.52" y1="200.6" x2="82.52" y2="334" stroke="#ececec" stroke-width="0.6"/>
<line x1="94.18" y1="200.6" x2="94.18" y2="334" stroke="#ececec" stroke-width="0.6"/>
<line x1="105.84" y1="200.6" x2="105.84" y2="334" stroke="#ececec" stroke-width="0.6"/>
<line x1="117.5" y1="200.6" x2="117.5" y2="334" stroke="#ececec" stroke-width="0.6"/>
<line x1="129.16" y1="200.6" x2="129.16" y2="334" stroke="#ececec" stroke-width="0.6"/>
<line x1="140.82" y1="200.6" x2="140.82" y2="334" stroke="#ececec" stroke-width="0.6"/>
<line x1="152.48" y1="200.6" x2="152.48" y2="334" stroke="#ececec" stroke-width="0.6"/>
<line x1="164.14" y1="200.6" x2="164.14" y2="334" stroke="#ececec" stroke-width="0.6"/>
<rect x="27.1" y="306.25" width="5.9" height="26.15" fill="#ee0d10"/>
<rect x="27.1" y="276.5" width="5.9" height="29.75" fill="#2f64a3"/>
<rect x="27.1" y="258.75" width="5.9" height="17.75" fill="#fcc118"/>
<rect x="27.1" y="234.5" width="5.9" height="24.25" fill="#3dbb6b"/>
<rect x="27.1" y="203.25" width="5.9" height="31.25" fill="#6563a6"/>
<rect x="38.76" y="304.5" width="5.9" height="27.9" fill="#ee0d10"/>
<rect x="38.76" y="277.25" width="5.9" height="27.25" fill="#2f64a3"/>
<rect x="38.76" y="260.75" width="5.9" height="16.5" fill="#fcc118"/>
<rect x="38.76" y="238.75" width="5.9" height="22" fill="#3dbb6b"/>
<rect x="38.76" y="209.5" width="5.9" height="29.25" fill="#6563a6"/>
<rect x="50.42" y="303.25" width="5.9" height="29.15" fill="#ee0d10"/>
<rect x="50.42" y="280.75" width="5.9" height="22.5" fill="#2f64a3"/>
<rect x="50.42" y="254.5" width="5.9" height="26.25" fill="#fcc118"/>
<rect x="50.42" y="241.25" width="5.9" height="13.25" fill="#3dbb6b"/>
<rect x="50.42" y="226.75" width="5.9" height="14.5" fill="#6563a6"/>
<rect x="62.08" y="320" width="5.9" height="12.4" fill="#ee0d10"/>
<rect x="62.08" y="297.5" width="5.9" height="22.5" fill="#2f64a3"/>
<rect x="62.08" y="274.25" width="5.9" height="23.25" fill="#fcc118"/>
<rect x="62.08" y="253" width="5.9" height="21.25" fill="#3dbb6b"/>
<rect x="62.08" y="238" width="5.9" height="15" fill="#6563a6"/>
<rect x="73.74" y="307.5" width="5.9" height="24.9" fill="#ee0d10"/>
<rect x="73.74" y="296.75" width="5.9" height="10.75" fill="#2f64a3"/>
<rect x="73.74" y="270" width="5.9" height="26.75" fill="#fcc118"/>
<rect x="73.74" y="244.25" width="5.9" height="25.75" fill="#3dbb6b"/>
<rect x="73.74" y="237.5" width="5.9" height="6.75" fill="#6563a6"/>
<rect x="85.4" y="312" width="5.9" height="20.4" fill="#ee0d10"/>
<rect x="85.4" y="292.5" width="5.9" height="19.5" fill="#2f64a3"/>
<rect x="85.4" y="272.5" width="5.9" height="20" fill="#fcc118"/>
<rect x="85.4" y="257.5" width="5.9" height="15" fill="#3dbb6b"/>
<rect x="85.4" y="240.75" width="5.9" height="16.75" fill="#6563a6"/>
<rect x="97.06" y="314.5" width="5.9" height="17.9" fill="#ee0d10"/>
<rect x="97.06" y="301.25" width="5.9" height="13.25" fill="#2f64a3"/>
<rect x="97.06" y="271.25" width="5.9" height="30" fill="#fcc118"/>
<rect x="97.06" y="258.75" width="5.9" height="12.5" fill="#3dbb6b"/>
<rect x="97.06" y="247.5" width="5.9" height="11.25" fill="#6563a6"/>
<rect x="108.72" y="317.5" width="5.9" height="14.9" fill="#ee0d10"/>
<rect x="108.72" y="309.5" width="5.9" height="8" fill="#2f64a3"/>
<rect x="108.72" y="290" width="5.9" height="19.5" fill="#fcc118"/>
<rect x="108.72" y="271.25" width="5.9" height="18.75" fill="#3dbb6b"/>
<rect x="108.72" y="249.5" width="5.9" height="21.75" fill="#6563a6"/>
<rect x="120.38" y="313.25" width="5.9" height="19.15" fill="#ee0d10"/>
<rect x="120.38" y="299.5" width="5.9" height="13.75" fill="#2f64a3"/>
<rect x="120.38" y="296.75" width="5.9" height="2.75" fill="#fcc118"/>
<rect x="120.38" y="266.5" width="5.9" height="30.25" fill="#3dbb6b"/>
<rect x="120.38" y="252.5" width="5.9" height="14" fill="#6563a6"/>
<rect x="132.04" y="324.5" width="5.9" height="7.9" fill="#ee0d10"/>
<rect x="132.04" y="305.75" width="5.9" height="18.75" fill="#2f64a3"/>
<rect x="132.04" y="298.75" width="5.9" height="7" fill="#fcc118"/>
<rect x="132.04" y="282.5" width="5.9" height="16.25" fill="#3dbb6b"/>
<rect x="132.04" y="257" width="5.9" height="25.5" fill="#6563a6"/>
<rect x="143.7" y="323.75" width="5.9" height="8.65" fill="#ee0d10"/>
<rect x="143.7" y="311.25" width="5.9" height="12.5" fill="#2f64a3"/>
<rect x="143.7" y="296.75" width="5.9" height="14.5" fill="#fcc118"/>
<rect x="143.7" y="289.25" width="5.9" height="7.5" fill="#3dbb6b"/>
<rect x="143.7" y="265.25" width="5.9" height="24" fill="#6563a6"/>
<rect x="155.36" y="322" width="5.9" height="10.4" fill="#ee0d10"/>
<rect x="155.36" y="320.5" width="5.9" height="1.5" fill="#2f64a3"/>
<rect x="155.36" y="313.75" width="5.9" height="6.75" fill="#fcc118"/>
<rect x="155.36" y="310.75" width="5.9" height="3" fill="#3dbb6b"/>
<rect x="155.36" y="290.75" width="5.9" height="20" fill="#6563a6"/>
<rect x="167.02" y="331.25" width="5.9" height="1.15" fill="#ee0d10"/>
<rect x="167.02" y="319.5" width="5.9" height="11.75" fill="#2f64a3"/>
<rect x="167.02" y="313.75" width="5.9" height="5.75" fill="#fcc118"/>
<rect x="167.02" y="310" width="5.9" height="3.75" fill="#3dbb6b"/>
<rect x="167.02" y="290.75" width="5.9" height="19.25" fill="#6563a6"/>
<path d="M24.3 200.6H175.7V334" fill="none" stroke="#8a8a8a" stroke-width="1.05"/>
<path d="M24.3 200.1V334H176.2" fill="none" stroke="#4a4a4a" stroke-width="1"/>
<line x1="22.1" y1="332.4" x2="24.3" y2="332.4" stroke="#444" stroke-width="0.8"/>
<text x="12.8" y="334.5" class="tk" textLength="7.6" lengthAdjust="spacingAndGlyphs">0.0</text>
<line x1="22.1" y1="314.5" x2="24.3" y2="314.5" stroke="#444" stroke-width="0.8"/>
<text x="12.8" y="316.6" class="tk" textLength="7.6" lengthAdjust="spacingAndGlyphs">0.5</text>
<line x1="22.1" y1="296.6" x2="24.3" y2="296.6" stroke="#444" stroke-width="0.8"/>
<text x="12.8" y="298.7" class="tk" textLength="7.6" lengthAdjust="spacingAndGlyphs">1.0</text>
<line x1="22.1" y1="278.7" x2="24.3" y2="278.7" stroke="#444" stroke-width="0.8"/>
<text x="12.8" y="280.8" class="tk" textLength="7.6" lengthAdjust="spacingAndGlyphs">1.5</text>
<line x1="22.1" y1="260.8" x2="24.3" y2="260.8" stroke="#444" stroke-width="0.8"/>
<text x="12.8" y="262.9" class="tk" textLength="7.6" lengthAdjust="spacingAndGlyphs">2.0</text>
<line x1="22.1" y1="242.9" x2="24.3" y2="242.9" stroke="#444" stroke-width="0.8"/>
<text x="12.8" y="245" class="tk" textLength="7.6" lengthAdjust="spacingAndGlyphs">2.5</text>
<line x1="22.1" y1="225" x2="24.3" y2="225" stroke="#444" stroke-width="0.8"/>
<text x="12.8" y="227.1" class="tk" textLength="7.6" lengthAdjust="spacingAndGlyphs">3.0</text>
<line x1="22.1" y1="207.1" x2="24.3" y2="207.1" stroke="#444" stroke-width="0.8"/>
<text x="12.8" y="209.2" class="tk" textLength="7.6" lengthAdjust="spacingAndGlyphs">3.5</text>
<line x1="23.1" y1="328.82" x2="24.3" y2="328.82" stroke="#444" stroke-width="0.6"/>
<line x1="23.1" y1="325.24" x2="24.3" y2="325.24" stroke="#444" stroke-width="0.6"/>
<line x1="23.1" y1="321.66" x2="24.3" y2="321.66" stroke="#444" stroke-width="0.6"/>
<line x1="23.1" y1="318.08" x2="24.3" y2="318.08" stroke="#444" stroke-width="0.6"/>
<line x1="23.1" y1="310.92" x2="24.3" y2="310.92" stroke="#444" stroke-width="0.6"/>
<line x1="23.1" y1="307.34" x2="24.3" y2="307.34" stroke="#444" stroke-width="0.6"/>
<line x1="23.1" y1="303.76" x2="24.3" y2="303.76" stroke="#444" stroke-width="0.6"/>
<line x1="23.1" y1="300.18" x2="24.3" y2="300.18" stroke="#444" stroke-width="0.6"/>
<line x1="23.1" y1="293.02" x2="24.3" y2="293.02" stroke="#444" stroke-width="0.6"/>
<line x1="23.1" y1="289.44" x2="24.3" y2="289.44" stroke="#444" stroke-width="0.6"/>
<line x1="23.1" y1="285.86" x2="24.3" y2="285.86" stroke="#444" stroke-width="0.6"/>
<line x1="23.1" y1="282.28" x2="24.3" y2="282.28" stroke="#444" stroke-width="0.6"/>
<line x1="23.1" y1="275.12" x2="24.3" y2="275.12" stroke="#444" stroke-width="0.6"/>
<line x1="23.1" y1="271.54" x2="24.3" y2="271.54" stroke="#444" stroke-width="0.6"/>
<line x1="23.1" y1="267.96" x2="24.3" y2="267.96" stroke="#444" stroke-width="0.6"/>
<line x1="23.1" y1="264.38" x2="24.3" y2="264.38" stroke="#444" stroke-width="0.6"/>
<line x1="23.1" y1="257.22" x2="24.3" y2="257.22" stroke="#444" stroke-width="0.6"/>
<line x1="23.1" y1="253.64" x2="24.3" y2="253.64" stroke="#444" stroke-width="0.6"/>
<line x1="23.1" y1="250.06" x2="24.3" y2="250.06" stroke="#444" stroke-width="0.6"/>
<line x1="23.1" y1="246.48" x2="24.3" y2="246.48" stroke="#444" stroke-width="0.6"/>
<line x1="23.1" y1="239.32" x2="24.3" y2="239.32" stroke="#444" stroke-width="0.6"/>
<line x1="23.1" y1="235.74" x2="24.3" y2="235.74" stroke="#444" stroke-width="0.6"/>
<line x1="23.1" y1="232.16" x2="24.3" y2="232.16" stroke="#444" stroke-width="0.6"/>
<line x1="23.1" y1="228.58" x2="24.3" y2="228.58" stroke="#444" stroke-width="0.6"/>
<line x1="23.1" y1="221.42" x2="24.3" y2="221.42" stroke="#444" stroke-width="0.6"/>
<line x1="23.1" y1="217.84" x2="24.3" y2="217.84" stroke="#444" stroke-width="0.6"/>
<line x1="23.1" y1="214.26" x2="24.3" y2="214.26" stroke="#444" stroke-width="0.6"/>
<line x1="23.1" y1="210.68" x2="24.3" y2="210.68" stroke="#444" stroke-width="0.6"/>
<line x1="23.1" y1="203.52" x2="24.3" y2="203.52" stroke="#444" stroke-width="0.6"/>
<line x1="30.05" y1="334" x2="30.05" y2="336.2" stroke="#444" stroke-width="0.8"/>
<text transform="translate(35.25 343.8) scale(1.07 1) rotate(-45)" class="xl">MRI-ESM2-0</text>
<line x1="41.71" y1="334" x2="41.71" y2="336.2" stroke="#444" stroke-width="0.8"/>
<text transform="translate(46.91 343.8) scale(1.07 1) rotate(-45)" class="xl">BCC_CSM</text>
<line x1="53.37" y1="334" x2="53.37" y2="336.2" stroke="#444" stroke-width="0.8"/>
<text transform="translate(58.57 343.8) scale(1.07 1) rotate(-45)" class="xl">GFDL</text>
<line x1="65.03" y1="334" x2="65.03" y2="336.2" stroke="#444" stroke-width="0.8"/>
<text transform="translate(70.23 343.8) scale(1.07 1) rotate(-45)" class="xl">NorESM2M</text>
<line x1="76.69" y1="334" x2="76.69" y2="336.2" stroke="#444" stroke-width="0.8"/>
<text transform="translate(81.89 343.8) scale(1.07 1) rotate(-45)" class="xl">ACCESS</text>
<line x1="88.35" y1="334" x2="88.35" y2="336.2" stroke="#444" stroke-width="0.8"/>
<text transform="translate(93.55 343.8) scale(1.07 1) rotate(-45)" class="xl">MIROC6</text>
<line x1="100.01" y1="334" x2="100.01" y2="336.2" stroke="#444" stroke-width="0.8"/>
<text transform="translate(105.21 343.8) scale(1.07 1) rotate(-45)" class="xl">GISS</text>
<line x1="111.67" y1="334" x2="111.67" y2="336.2" stroke="#444" stroke-width="0.8"/>
<text transform="translate(116.87 343.8) scale(1.07 1) rotate(-45)" class="xl">KIOST</text>
<line x1="123.33" y1="334" x2="123.33" y2="336.2" stroke="#444" stroke-width="0.8"/>
<text transform="translate(128.53 343.8) scale(1.07 1) rotate(-45)" class="xl">IPSL</text>
<line x1="134.99" y1="334" x2="134.99" y2="336.2" stroke="#444" stroke-width="0.8"/>
<text transform="translate(140.19 343.8) scale(1.07 1) rotate(-45)" class="xl">MPI_ESM_HR</text>
<line x1="146.65" y1="334" x2="146.65" y2="336.2" stroke="#444" stroke-width="0.8"/>
<text transform="translate(151.85 343.8) scale(1.07 1) rotate(-45)" class="xl">CanESM5</text>
<line x1="158.31" y1="334" x2="158.31" y2="336.2" stroke="#444" stroke-width="0.8"/>
<text transform="translate(163.51 343.8) scale(1.07 1) rotate(-45)" class="xl">INM-CM4-8</text>
<line x1="169.97" y1="334" x2="169.97" y2="336.2" stroke="#444" stroke-width="0.8"/>
<text transform="translate(175.17 343.8) scale(1.07 1) rotate(-45)" class="xl">MPI_ESM_LR</text>
<line x1="35.88" y1="334" x2="35.88" y2="335.2" stroke="#555" stroke-width="0.7"/>
<line x1="47.54" y1="334" x2="47.54" y2="335.2" stroke="#555" stroke-width="0.7"/>
<line x1="59.2" y1="334" x2="59.2" y2="335.2" stroke="#555" stroke-width="0.7"/>
<line x1="70.86" y1="334" x2="70.86" y2="335.2" stroke="#555" stroke-width="0.7"/>
<line x1="82.52" y1="334" x2="82.52" y2="335.2" stroke="#555" stroke-width="0.7"/>
<line x1="94.18" y1="334" x2="94.18" y2="335.2" stroke="#555" stroke-width="0.7"/>
<line x1="105.84" y1="334" x2="105.84" y2="335.2" stroke="#555" stroke-width="0.7"/>
<line x1="117.5" y1="334" x2="117.5" y2="335.2" stroke="#555" stroke-width="0.7"/>
<line x1="129.16" y1="334" x2="129.16" y2="335.2" stroke="#555" stroke-width="0.7"/>
<line x1="140.82" y1="334" x2="140.82" y2="335.2" stroke="#555" stroke-width="0.7"/>
<line x1="152.48" y1="334" x2="152.48" y2="335.2" stroke="#555" stroke-width="0.7"/>
<line x1="164.14" y1="334" x2="164.14" y2="335.2" stroke="#555" stroke-width="0.7"/>
<path d="M24.1 201.2H60.6" fill="none" stroke="#ff3636" stroke-width="1.25" stroke-dasharray="4.7 4.45"/>
<path d="M60 201.8V333.6" fill="none" stroke="#ff3636" stroke-width="1.25" stroke-dasharray="4.9 4.6" stroke-dashoffset="8.95"/>
<path d="M24.7 200.6V333.6" fill="none" stroke="#ff3636" stroke-width="1.25" stroke-dasharray="4.9 4.6"/>
<path d="M24.7 333.6H60" fill="none" stroke="#ff3636" stroke-width="1.25" stroke-dasharray="4.7 4.45" stroke-dashoffset="3"/>
<text x="23.9" y="196.4" class="ti" textLength="98.4" lengthAdjust="spacingAndGlyphs">(d) CMIP6 GCM for Rain</text>
<rect x="85.7" y="201.45" width="6.6" height="4.8" fill="#6563a6"/>
<text x="95.7" y="205.8" class="lg" textLength="29" lengthAdjust="spacingAndGlyphs">Annual Rain</text>
<rect x="85.7" y="208.25" width="6.6" height="4.8" fill="#fcc118"/>
<text x="95.7" y="212.6" class="lg" textLength="31.06" lengthAdjust="spacingAndGlyphs">Autumn Rain</text>
<rect x="85.7" y="215.05" width="6.6" height="4.8" fill="#ee0d10"/>
<text x="95.7" y="219.4" class="lg" textLength="27.53" lengthAdjust="spacingAndGlyphs">Spring Rain</text>
<rect x="131" y="201.45" width="6.6" height="4.8" fill="#3dbb6b"/>
<text x="141" y="205.8" class="lg" textLength="28.22" lengthAdjust="spacingAndGlyphs">Winter Rain</text>
<rect x="131" y="208.25" width="6.6" height="4.8" fill="#2f64a3"/>
<text x="141" y="212.6" class="lg" textLength="31.55" lengthAdjust="spacingAndGlyphs">Summer Rain</text>
<line x1="209.45" y1="200.6" x2="209.45" y2="334" stroke="#ececec" stroke-width="0.6"/>
<line x1="221.05" y1="200.6" x2="221.05" y2="334" stroke="#ececec" stroke-width="0.6"/>
<line x1="232.65" y1="200.6" x2="232.65" y2="334" stroke="#ececec" stroke-width="0.6"/>
<line x1="244.25" y1="200.6" x2="244.25" y2="334" stroke="#ececec" stroke-width="0.6"/>
<line x1="255.85" y1="200.6" x2="255.85" y2="334" stroke="#ececec" stroke-width="0.6"/>
<line x1="267.45" y1="200.6" x2="267.45" y2="334" stroke="#ececec" stroke-width="0.6"/>
<line x1="279.05" y1="200.6" x2="279.05" y2="334" stroke="#ececec" stroke-width="0.6"/>
<line x1="290.65" y1="200.6" x2="290.65" y2="334" stroke="#ececec" stroke-width="0.6"/>
<line x1="302.25" y1="200.6" x2="302.25" y2="334" stroke="#ececec" stroke-width="0.6"/>
<line x1="313.85" y1="200.6" x2="313.85" y2="334" stroke="#ececec" stroke-width="0.6"/>
<line x1="325.45" y1="200.6" x2="325.45" y2="334" stroke="#ececec" stroke-width="0.6"/>
<line x1="337.05" y1="200.6" x2="337.05" y2="334" stroke="#ececec" stroke-width="0.6"/>
<line x1="348.65" y1="200.6" x2="348.65" y2="334" stroke="#ececec" stroke-width="0.6"/>
<rect x="212.3" y="308.75" width="5.9" height="23.65" fill="#ee0d10"/>
<rect x="212.3" y="288.75" width="5.9" height="20" fill="#2f64a3"/>
<rect x="212.3" y="263" width="5.9" height="25.75" fill="#fcc118"/>
<rect x="212.3" y="236.25" width="5.9" height="26.75" fill="#3dbb6b"/>
<rect x="212.3" y="210" width="5.9" height="26.25" fill="#6563a6"/>
<rect x="223.9" y="314.25" width="5.9" height="18.15" fill="#ee0d10"/>
<rect x="223.9" y="284.5" width="5.9" height="29.75" fill="#2f64a3"/>
<rect x="223.9" y="262.5" width="5.9" height="22" fill="#fcc118"/>
<rect x="223.9" y="231.25" width="5.9" height="31.25" fill="#3dbb6b"/>
<rect x="223.9" y="212" width="5.9" height="19.25" fill="#6563a6"/>
<rect x="235.5" y="311.25" width="5.9" height="21.15" fill="#ee0d10"/>
<rect x="235.5" y="282" width="5.9" height="29.25" fill="#2f64a3"/>
<rect x="235.5" y="253.25" width="5.9" height="28.75" fill="#fcc118"/>
<rect x="235.5" y="243.75" width="5.9" height="9.5" fill="#3dbb6b"/>
<rect x="235.5" y="212" width="5.9" height="31.75" fill="#6563a6"/>
<rect x="247.1" y="305" width="5.9" height="27.4" fill="#ee0d10"/>
<rect x="247.1" y="288" width="5.9" height="17" fill="#2f64a3"/>
<rect x="247.1" y="260.75" width="5.9" height="27.25" fill="#fcc118"/>
<rect x="247.1" y="243.75" width="5.9" height="17" fill="#3dbb6b"/>
<rect x="247.1" y="216.25" width="5.9" height="27.5" fill="#6563a6"/>
<rect x="258.7" y="311.25" width="5.9" height="21.15" fill="#ee0d10"/>
<rect x="258.7" y="298.75" width="5.9" height="12.5" fill="#2f64a3"/>
<rect x="258.7" y="277" width="5.9" height="21.75" fill="#fcc118"/>
<rect x="258.7" y="252.5" width="5.9" height="24.5" fill="#3dbb6b"/>
<rect x="258.7" y="233" width="5.9" height="19.5" fill="#6563a6"/>
<rect x="270.3" y="311.25" width="5.9" height="21.15" fill="#ee0d10"/>
<rect x="270.3" y="289.5" width="5.9" height="21.75" fill="#2f64a3"/>
<rect x="270.3" y="272.75" width="5.9" height="16.75" fill="#fcc118"/>
<rect x="270.3" y="249.25" width="5.9" height="23.5" fill="#3dbb6b"/>
<rect x="270.3" y="233.25" width="5.9" height="16" fill="#6563a6"/>
<rect x="281.9" y="314.5" width="5.9" height="17.9" fill="#ee0d10"/>
<rect x="281.9" y="292.5" width="5.9" height="22" fill="#2f64a3"/>
<rect x="281.9" y="273.75" width="5.9" height="18.75" fill="#fcc118"/>
<rect x="281.9" y="254.25" width="5.9" height="19.5" fill="#3dbb6b"/>
<rect x="281.9" y="237.5" width="5.9" height="16.75" fill="#6563a6"/>
<rect x="293.5" y="310" width="5.9" height="22.4" fill="#ee0d10"/>
<rect x="293.5" y="299.5" width="5.9" height="10.5" fill="#2f64a3"/>
<rect x="293.5" y="292" width="5.9" height="7.5" fill="#fcc118"/>
<rect x="293.5" y="269.5" width="5.9" height="22.5" fill="#3dbb6b"/>
<rect x="293.5" y="252" width="5.9" height="17.5" fill="#6563a6"/>
<rect x="305.1" y="321.25" width="5.9" height="11.15" fill="#ee0d10"/>
<rect x="305.1" y="300" width="5.9" height="21.25" fill="#2f64a3"/>
<rect x="305.1" y="288.75" width="5.9" height="11.25" fill="#fcc118"/>
<rect x="305.1" y="272.5" width="5.9" height="16.25" fill="#3dbb6b"/>
<rect x="305.1" y="258.25" width="5.9" height="14.25" fill="#6563a6"/>
<rect x="316.7" y="320.75" width="5.9" height="11.65" fill="#ee0d10"/>
<rect x="316.7" y="302.5" width="5.9" height="18.25" fill="#2f64a3"/>
<rect x="316.7" y="295.5" width="5.9" height="7" fill="#fcc118"/>
<rect x="316.7" y="280.5" width="5.9" height="15" fill="#3dbb6b"/>
<rect x="316.7" y="261" width="5.9" height="19.5" fill="#6563a6"/>
<rect x="328.3" y="313.25" width="5.9" height="19.15" fill="#ee0d10"/>
<rect x="328.3" y="300.75" width="5.9" height="12.5" fill="#2f64a3"/>
<rect x="328.3" y="285" width="5.9" height="15.75" fill="#fcc118"/>
<rect x="328.3" y="274.25" width="5.9" height="10.75" fill="#3dbb6b"/>
<rect x="328.3" y="262" width="5.9" height="12.25" fill="#6563a6"/>
<rect x="339.9" y="328.25" width="5.9" height="4.15" fill="#ee0d10"/>
<rect x="339.9" y="310" width="5.9" height="18.25" fill="#2f64a3"/>
<rect x="339.9" y="298" width="5.9" height="12" fill="#fcc118"/>
<rect x="339.9" y="289.25" width="5.9" height="8.75" fill="#3dbb6b"/>
<rect x="339.9" y="273.5" width="5.9" height="15.75" fill="#6563a6"/>
<rect x="351.5" y="330" width="5.9" height="2.4" fill="#ee0d10"/>
<rect x="351.5" y="321.25" width="5.9" height="8.75" fill="#2f64a3"/>
<rect x="351.5" y="305" width="5.9" height="16.25" fill="#fcc118"/>
<rect x="351.5" y="296.75" width="5.9" height="8.25" fill="#3dbb6b"/>
<rect x="351.5" y="287.5" width="5.9" height="9.25" fill="#6563a6"/>
<path d="M208.6 200.6H360.5V334" fill="none" stroke="#8a8a8a" stroke-width="1.05"/>
<path d="M208.6 200.1V334H361" fill="none" stroke="#4a4a4a" stroke-width="1"/>
<line x1="206.4" y1="332.4" x2="208.6" y2="332.4" stroke="#444" stroke-width="0.8"/>
<text x="197.1" y="334.5" class="tk" textLength="7.6" lengthAdjust="spacingAndGlyphs">0.0</text>
<line x1="206.4" y1="315.05" x2="208.6" y2="315.05" stroke="#444" stroke-width="0.8"/>
<text x="197.1" y="317.15" class="tk" textLength="7.6" lengthAdjust="spacingAndGlyphs">0.5</text>
<line x1="206.4" y1="297.7" x2="208.6" y2="297.7" stroke="#444" stroke-width="0.8"/>
<text x="197.1" y="299.8" class="tk" textLength="7.6" lengthAdjust="spacingAndGlyphs">1.0</text>
<line x1="206.4" y1="280.35" x2="208.6" y2="280.35" stroke="#444" stroke-width="0.8"/>
<text x="197.1" y="282.45" class="tk" textLength="7.6" lengthAdjust="spacingAndGlyphs">1.5</text>
<line x1="206.4" y1="263" x2="208.6" y2="263" stroke="#444" stroke-width="0.8"/>
<text x="197.1" y="265.1" class="tk" textLength="7.6" lengthAdjust="spacingAndGlyphs">2.0</text>
<line x1="206.4" y1="245.65" x2="208.6" y2="245.65" stroke="#444" stroke-width="0.8"/>
<text x="197.1" y="247.75" class="tk" textLength="7.6" lengthAdjust="spacingAndGlyphs">2.5</text>
<line x1="206.4" y1="228.3" x2="208.6" y2="228.3" stroke="#444" stroke-width="0.8"/>
<text x="197.1" y="230.4" class="tk" textLength="7.6" lengthAdjust="spacingAndGlyphs">3.0</text>
<line x1="206.4" y1="210.95" x2="208.6" y2="210.95" stroke="#444" stroke-width="0.8"/>
<text x="197.1" y="213.05" class="tk" textLength="7.6" lengthAdjust="spacingAndGlyphs">3.5</text>
<line x1="207.4" y1="328.93" x2="208.6" y2="328.93" stroke="#444" stroke-width="0.6"/>
<line x1="207.4" y1="325.46" x2="208.6" y2="325.46" stroke="#444" stroke-width="0.6"/>
<line x1="207.4" y1="321.99" x2="208.6" y2="321.99" stroke="#444" stroke-width="0.6"/>
<line x1="207.4" y1="318.52" x2="208.6" y2="318.52" stroke="#444" stroke-width="0.6"/>
<line x1="207.4" y1="311.58" x2="208.6" y2="311.58" stroke="#444" stroke-width="0.6"/>
<line x1="207.4" y1="308.11" x2="208.6" y2="308.11" stroke="#444" stroke-width="0.6"/>
<line x1="207.4" y1="304.64" x2="208.6" y2="304.64" stroke="#444" stroke-width="0.6"/>
<line x1="207.4" y1="301.17" x2="208.6" y2="301.17" stroke="#444" stroke-width="0.6"/>
<line x1="207.4" y1="294.23" x2="208.6" y2="294.23" stroke="#444" stroke-width="0.6"/>
<line x1="207.4" y1="290.76" x2="208.6" y2="290.76" stroke="#444" stroke-width="0.6"/>
<line x1="207.4" y1="287.29" x2="208.6" y2="287.29" stroke="#444" stroke-width="0.6"/>
<line x1="207.4" y1="283.82" x2="208.6" y2="283.82" stroke="#444" stroke-width="0.6"/>
<line x1="207.4" y1="276.88" x2="208.6" y2="276.88" stroke="#444" stroke-width="0.6"/>
<line x1="207.4" y1="273.41" x2="208.6" y2="273.41" stroke="#444" stroke-width="0.6"/>
<line x1="207.4" y1="269.94" x2="208.6" y2="269.94" stroke="#444" stroke-width="0.6"/>
<line x1="207.4" y1="266.47" x2="208.6" y2="266.47" stroke="#444" stroke-width="0.6"/>
<line x1="207.4" y1="259.53" x2="208.6" y2="259.53" stroke="#444" stroke-width="0.6"/>
<line x1="207.4" y1="256.06" x2="208.6" y2="256.06" stroke="#444" stroke-width="0.6"/>
<line x1="207.4" y1="252.59" x2="208.6" y2="252.59" stroke="#444" stroke-width="0.6"/>
<line x1="207.4" y1="249.12" x2="208.6" y2="249.12" stroke="#444" stroke-width="0.6"/>
<line x1="207.4" y1="242.18" x2="208.6" y2="242.18" stroke="#444" stroke-width="0.6"/>
<line x1="207.4" y1="238.71" x2="208.6" y2="238.71" stroke="#444" stroke-width="0.6"/>
<line x1="207.4" y1="235.24" x2="208.6" y2="235.24" stroke="#444" stroke-width="0.6"/>
<line x1="207.4" y1="231.77" x2="208.6" y2="231.77" stroke="#444" stroke-width="0.6"/>
<line x1="207.4" y1="224.83" x2="208.6" y2="224.83" stroke="#444" stroke-width="0.6"/>
<line x1="207.4" y1="221.36" x2="208.6" y2="221.36" stroke="#444" stroke-width="0.6"/>
<line x1="207.4" y1="217.89" x2="208.6" y2="217.89" stroke="#444" stroke-width="0.6"/>
<line x1="207.4" y1="214.42" x2="208.6" y2="214.42" stroke="#444" stroke-width="0.6"/>
<line x1="207.4" y1="207.48" x2="208.6" y2="207.48" stroke="#444" stroke-width="0.6"/>
<line x1="207.4" y1="204.01" x2="208.6" y2="204.01" stroke="#444" stroke-width="0.6"/>
<line x1="215.25" y1="334" x2="215.25" y2="336.2" stroke="#444" stroke-width="0.8"/>
<text transform="translate(220.45 343.8) scale(1.07 1) rotate(-45)" class="xl">MIROC6</text>
<line x1="226.85" y1="334" x2="226.85" y2="336.2" stroke="#444" stroke-width="0.8"/>
<text transform="translate(232.05 343.8) scale(1.07 1) rotate(-45)" class="xl">BCC_CSM</text>
<line x1="238.45" y1="334" x2="238.45" y2="336.2" stroke="#444" stroke-width="0.8"/>
<text transform="translate(243.65 343.8) scale(1.07 1) rotate(-45)" class="xl">MRI-ESM2-0</text>
<line x1="250.05" y1="334" x2="250.05" y2="336.2" stroke="#444" stroke-width="0.8"/>
<text transform="translate(255.25 343.8) scale(1.07 1) rotate(-45)" class="xl">GFDL</text>
<line x1="261.65" y1="334" x2="261.65" y2="336.2" stroke="#444" stroke-width="0.8"/>
<text transform="translate(266.85 343.8) scale(1.07 1) rotate(-45)" class="xl">NorESM2M</text>
<line x1="273.25" y1="334" x2="273.25" y2="336.2" stroke="#444" stroke-width="0.8"/>
<text transform="translate(278.45 343.8) scale(1.07 1) rotate(-45)" class="xl">MPI_ESM_HR</text>
<line x1="284.85" y1="334" x2="284.85" y2="336.2" stroke="#444" stroke-width="0.8"/>
<text transform="translate(290.05 343.8) scale(1.07 1) rotate(-45)" class="xl">GISS</text>
<line x1="296.45" y1="334" x2="296.45" y2="336.2" stroke="#444" stroke-width="0.8"/>
<text transform="translate(301.65 343.8) scale(1.07 1) rotate(-45)" class="xl">INM-CM4-8</text>
<line x1="308.05" y1="334" x2="308.05" y2="336.2" stroke="#444" stroke-width="0.8"/>
<text transform="translate(313.25 343.8) scale(1.07 1) rotate(-45)" class="xl">IPSL</text>
<line x1="319.65" y1="334" x2="319.65" y2="336.2" stroke="#444" stroke-width="0.8"/>
<text transform="translate(324.85 343.8) scale(1.07 1) rotate(-45)" class="xl">MPI_ESM_LR</text>
<line x1="331.25" y1="334" x2="331.25" y2="336.2" stroke="#444" stroke-width="0.8"/>
<text transform="translate(336.45 343.8) scale(1.07 1) rotate(-45)" class="xl">ACCESS</text>
<line x1="342.85" y1="334" x2="342.85" y2="336.2" stroke="#444" stroke-width="0.8"/>
<text transform="translate(348.05 343.8) scale(1.07 1) rotate(-45)" class="xl">CanESM5</text>
<line x1="354.45" y1="334" x2="354.45" y2="336.2" stroke="#444" stroke-width="0.8"/>
<text transform="translate(359.65 343.8) scale(1.07 1) rotate(-45)" class="xl">KIOST</text>
<line x1="209.45" y1="334" x2="209.45" y2="335.2" stroke="#555" stroke-width="0.7"/>
<line x1="221.05" y1="334" x2="221.05" y2="335.2" stroke="#555" stroke-width="0.7"/>
<line x1="232.65" y1="334" x2="232.65" y2="335.2" stroke="#555" stroke-width="0.7"/>
<line x1="244.25" y1="334" x2="244.25" y2="335.2" stroke="#555" stroke-width="0.7"/>
<line x1="255.85" y1="334" x2="255.85" y2="335.2" stroke="#555" stroke-width="0.7"/>
<line x1="267.45" y1="334" x2="267.45" y2="335.2" stroke="#555" stroke-width="0.7"/>
<line x1="279.05" y1="334" x2="279.05" y2="335.2" stroke="#555" stroke-width="0.7"/>
<line x1="290.65" y1="334" x2="290.65" y2="335.2" stroke="#555" stroke-width="0.7"/>
<line x1="302.25" y1="334" x2="302.25" y2="335.2" stroke="#555" stroke-width="0.7"/>
<line x1="313.85" y1="334" x2="313.85" y2="335.2" stroke="#555" stroke-width="0.7"/>
<line x1="325.45" y1="334" x2="325.45" y2="335.2" stroke="#555" stroke-width="0.7"/>
<line x1="337.05" y1="334" x2="337.05" y2="335.2" stroke="#555" stroke-width="0.7"/>
<line x1="348.65" y1="334" x2="348.65" y2="335.2" stroke="#555" stroke-width="0.7"/>
<path d="M208.7 208H243.9" fill="none" stroke="#ff3636" stroke-width="1.25" stroke-dasharray="4.7 4.45"/>
<path d="M243.3 208.6V333.5" fill="none" stroke="#ff3636" stroke-width="1.25" stroke-dasharray="4.9 4.6" stroke-dashoffset="7.65"/>
<path d="M209.3 207.4V333.5" fill="none" stroke="#ff3636" stroke-width="1.25" stroke-dasharray="4.9 4.6"/>
<path d="M209.3 333.5H243.3" fill="none" stroke="#ff3636" stroke-width="1.25" stroke-dasharray="4.7 4.45" stroke-dashoffset="3"/>
<text x="210.5" y="196.4" class="ti" textLength="102.9" lengthAdjust="spacingAndGlyphs">(e) CMIP6 GCM for Tmax</text>
<rect x="265.9" y="201.05" width="6.6" height="4.8" fill="#6563a6"/>
<text x="276.2" y="205.4" class="lg" textLength="31.27" lengthAdjust="spacingAndGlyphs">Annual Tmax</text>
<rect x="265.9" y="207.85" width="6.6" height="4.8" fill="#fcc118"/>
<text x="276.2" y="212.2" class="lg" textLength="33.31" lengthAdjust="spacingAndGlyphs">Autumn Tmax</text>
<rect x="265.9" y="214.65" width="6.6" height="4.8" fill="#ee0d10"/>
<text x="276.2" y="219" class="lg" textLength="29.78" lengthAdjust="spacingAndGlyphs">Spring Tmax</text>
<rect x="313.6" y="201.05" width="6.6" height="4.8" fill="#3dbb6b"/>
<text x="323.6" y="205.4" class="lg" textLength="30.47" lengthAdjust="spacingAndGlyphs">Winter Tmax</text>
<rect x="313.6" y="207.85" width="6.6" height="4.8" fill="#2f64a3"/>
<text x="323.6" y="212.2" class="lg" textLength="33.8" lengthAdjust="spacingAndGlyphs">Summer Tmax</text>
<line x1="393.94" y1="200.6" x2="393.94" y2="334" stroke="#ececec" stroke-width="0.6"/>
<line x1="405.56" y1="200.6" x2="405.56" y2="334" stroke="#ececec" stroke-width="0.6"/>
<line x1="417.18" y1="200.6" x2="417.18" y2="334" stroke="#ececec" stroke-width="0.6"/>
<line x1="428.8" y1="200.6" x2="428.8" y2="334" stroke="#ececec" stroke-width="0.6"/>
<line x1="440.42" y1="200.6" x2="440.42" y2="334" stroke="#ececec" stroke-width="0.6"/>
<line x1="452.04" y1="200.6" x2="452.04" y2="334" stroke="#ececec" stroke-width="0.6"/>
<line x1="463.66" y1="200.6" x2="463.66" y2="334" stroke="#ececec" stroke-width="0.6"/>
<line x1="475.28" y1="200.6" x2="475.28" y2="334" stroke="#ececec" stroke-width="0.6"/>
<line x1="486.9" y1="200.6" x2="486.9" y2="334" stroke="#ececec" stroke-width="0.6"/>
<line x1="498.52" y1="200.6" x2="498.52" y2="334" stroke="#ececec" stroke-width="0.6"/>
<line x1="510.14" y1="200.6" x2="510.14" y2="334" stroke="#ececec" stroke-width="0.6"/>
<line x1="521.76" y1="200.6" x2="521.76" y2="334" stroke="#ececec" stroke-width="0.6"/>
<line x1="533.38" y1="200.6" x2="533.38" y2="334" stroke="#ececec" stroke-width="0.6"/>
<rect x="396.8" y="304.5" width="5.9" height="27.9" fill="#ee0d10"/>
<rect x="396.8" y="280" width="5.9" height="24.5" fill="#2f64a3"/>
<rect x="396.8" y="255.75" width="5.9" height="24.25" fill="#fcc118"/>
<rect x="396.8" y="239.5" width="5.9" height="16.25" fill="#3dbb6b"/>
<rect x="396.8" y="210.75" width="5.9" height="28.75" fill="#6563a6"/>
<rect x="408.42" y="303" width="5.9" height="29.4" fill="#ee0d10"/>
<rect x="408.42" y="277" width="5.9" height="26" fill="#2f64a3"/>
<rect x="408.42" y="252" width="5.9" height="25" fill="#fcc118"/>
<rect x="408.42" y="234.5" width="5.9" height="17.5" fill="#3dbb6b"/>
<rect x="408.42" y="211.75" width="5.9" height="22.75" fill="#6563a6"/>
<rect x="420.04" y="310" width="5.9" height="22.4" fill="#ee0d10"/>
<rect x="420.04" y="283.75" width="5.9" height="26.25" fill="#2f64a3"/>
<rect x="420.04" y="258" width="5.9" height="25.75" fill="#fcc118"/>
<rect x="420.04" y="241.25" width="5.9" height="16.75" fill="#3dbb6b"/>
<rect x="420.04" y="214.25" width="5.9" height="27" fill="#6563a6"/>
<rect x="431.66" y="307.5" width="5.9" height="24.9" fill="#ee0d10"/>
<rect x="431.66" y="290.75" width="5.9" height="16.75" fill="#2f64a3"/>
<rect x="431.66" y="265" width="5.9" height="25.75" fill="#fcc118"/>
<rect x="431.66" y="247.5" width="5.9" height="17.5" fill="#3dbb6b"/>
<rect x="431.66" y="223.25" width="5.9" height="24.25" fill="#6563a6"/>
<rect x="443.28" y="312" width="5.9" height="20.4" fill="#ee0d10"/>
<rect x="443.28" y="296.25" width="5.9" height="15.75" fill="#2f64a3"/>
<rect x="443.28" y="279.25" width="5.9" height="17" fill="#fcc118"/>
<rect x="443.28" y="255.5" width="5.9" height="23.75" fill="#3dbb6b"/>
<rect x="443.28" y="238" width="5.9" height="17.5" fill="#6563a6"/>
<rect x="454.9" y="315.5" width="5.9" height="16.9" fill="#ee0d10"/>
<rect x="454.9" y="294.25" width="5.9" height="21.25" fill="#2f64a3"/>
<rect x="454.9" y="283.75" width="5.9" height="10.5" fill="#fcc118"/>
<rect x="454.9" y="259.75" width="5.9" height="24" fill="#3dbb6b"/>
<rect x="454.9" y="242" width="5.9" height="17.75" fill="#6563a6"/>
<rect x="466.52" y="314.25" width="5.9" height="18.15" fill="#ee0d10"/>
<rect x="466.52" y="300.5" width="5.9" height="13.75" fill="#2f64a3"/>
<rect x="466.52" y="285" width="5.9" height="15.5" fill="#fcc118"/>
<rect x="466.52" y="269" width="5.9" height="16" fill="#3dbb6b"/>
<rect x="466.52" y="248.75" width="5.9" height="20.25" fill="#6563a6"/>
<rect x="478.14" y="316.25" width="5.9" height="16.15" fill="#ee0d10"/>
<rect x="478.14" y="304.25" width="5.9" height="12" fill="#2f64a3"/>
<rect x="478.14" y="285.75" width="5.9" height="18.5" fill="#fcc118"/>
<rect x="478.14" y="270.75" width="5.9" height="15" fill="#3dbb6b"/>
<rect x="478.14" y="257.5" width="5.9" height="13.25" fill="#6563a6"/>
<rect x="489.76" y="321.75" width="5.9" height="10.65" fill="#ee0d10"/>
<rect x="489.76" y="312.5" width="5.9" height="9.25" fill="#2f64a3"/>
<rect x="489.76" y="295.5" width="5.9" height="17" fill="#fcc118"/>
<rect x="489.76" y="270.5" width="5.9" height="25" fill="#3dbb6b"/>
<rect x="489.76" y="258.25" width="5.9" height="12.25" fill="#6563a6"/>
<rect x="501.38" y="325" width="5.9" height="7.4" fill="#ee0d10"/>
<rect x="501.38" y="305.75" width="5.9" height="19.25" fill="#2f64a3"/>
<rect x="501.38" y="299.25" width="5.9" height="6.5" fill="#fcc118"/>
<rect x="501.38" y="281.75" width="5.9" height="17.5" fill="#3dbb6b"/>
<rect x="501.38" y="260" width="5.9" height="21.75" fill="#6563a6"/>
<rect x="513" y="330" width="5.9" height="2.4" fill="#ee0d10"/>
<rect x="513" y="307.5" width="5.9" height="22.5" fill="#2f64a3"/>
<rect x="513" y="301.75" width="5.9" height="5.75" fill="#fcc118"/>
<rect x="513" y="285.5" width="5.9" height="16.25" fill="#3dbb6b"/>
<rect x="513" y="269" width="5.9" height="16.5" fill="#6563a6"/>
<rect x="524.62" y="320.5" width="5.9" height="11.9" fill="#ee0d10"/>
<rect x="524.62" y="310" width="5.9" height="10.5" fill="#2f64a3"/>
<rect x="524.62" y="290.5" width="5.9" height="19.5" fill="#fcc118"/>
<rect x="524.62" y="276.25" width="5.9" height="14.25" fill="#3dbb6b"/>
<rect x="524.62" y="269.25" width="5.9" height="7" fill="#6563a6"/>
<rect x="536.24" y="326.75" width="5.9" height="5.65" fill="#ee0d10"/>
<rect x="536.24" y="315.5" width="5.9" height="11.25" fill="#2f64a3"/>
<rect x="536.24" y="305.75" width="5.9" height="9.75" fill="#fcc118"/>
<rect x="536.24" y="288.25" width="5.9" height="17.5" fill="#3dbb6b"/>
<rect x="536.24" y="277" width="5.9" height="11.25" fill="#6563a6"/>
<path d="M393.2 200.6H545.4V334" fill="none" stroke="#8a8a8a" stroke-width="1.05"/>
<path d="M393.2 200.1V334H545.9" fill="none" stroke="#4a4a4a" stroke-width="1"/>
<line x1="391" y1="332.4" x2="393.2" y2="332.4" stroke="#444" stroke-width="0.8"/>
<text x="381.7" y="334.5" class="tk" textLength="7.6" lengthAdjust="spacingAndGlyphs">0.0</text>
<line x1="391" y1="315.45" x2="393.2" y2="315.45" stroke="#444" stroke-width="0.8"/>
<text x="381.7" y="317.55" class="tk" textLength="7.6" lengthAdjust="spacingAndGlyphs">0.5</text>
<line x1="391" y1="298.5" x2="393.2" y2="298.5" stroke="#444" stroke-width="0.8"/>
<text x="381.7" y="300.6" class="tk" textLength="7.6" lengthAdjust="spacingAndGlyphs">1.0</text>
<line x1="391" y1="281.55" x2="393.2" y2="281.55" stroke="#444" stroke-width="0.8"/>
<text x="381.7" y="283.65" class="tk" textLength="7.6" lengthAdjust="spacingAndGlyphs">1.5</text>
<line x1="391" y1="264.6" x2="393.2" y2="264.6" stroke="#444" stroke-width="0.8"/>
<text x="381.7" y="266.7" class="tk" textLength="7.6" lengthAdjust="spacingAndGlyphs">2.0</text>
<line x1="391" y1="247.65" x2="393.2" y2="247.65" stroke="#444" stroke-width="0.8"/>
<text x="381.7" y="249.75" class="tk" textLength="7.6" lengthAdjust="spacingAndGlyphs">2.5</text>
<line x1="391" y1="230.7" x2="393.2" y2="230.7" stroke="#444" stroke-width="0.8"/>
<text x="381.7" y="232.8" class="tk" textLength="7.6" lengthAdjust="spacingAndGlyphs">3.0</text>
<line x1="391" y1="213.75" x2="393.2" y2="213.75" stroke="#444" stroke-width="0.8"/>
<text x="381.7" y="215.85" class="tk" textLength="7.6" lengthAdjust="spacingAndGlyphs">3.5</text>
<line x1="392" y1="329.01" x2="393.2" y2="329.01" stroke="#444" stroke-width="0.6"/>
<line x1="392" y1="325.62" x2="393.2" y2="325.62" stroke="#444" stroke-width="0.6"/>
<line x1="392" y1="322.23" x2="393.2" y2="322.23" stroke="#444" stroke-width="0.6"/>
<line x1="392" y1="318.84" x2="393.2" y2="318.84" stroke="#444" stroke-width="0.6"/>
<line x1="392" y1="312.06" x2="393.2" y2="312.06" stroke="#444" stroke-width="0.6"/>
<line x1="392" y1="308.67" x2="393.2" y2="308.67" stroke="#444" stroke-width="0.6"/>
<line x1="392" y1="305.28" x2="393.2" y2="305.28" stroke="#444" stroke-width="0.6"/>
<line x1="392" y1="301.89" x2="393.2" y2="301.89" stroke="#444" stroke-width="0.6"/>
<line x1="392" y1="295.11" x2="393.2" y2="295.11" stroke="#444" stroke-width="0.6"/>
<line x1="392" y1="291.72" x2="393.2" y2="291.72" stroke="#444" stroke-width="0.6"/>
<line x1="392" y1="288.33" x2="393.2" y2="288.33" stroke="#444" stroke-width="0.6"/>
<line x1="392" y1="284.94" x2="393.2" y2="284.94" stroke="#444" stroke-width="0.6"/>
<line x1="392" y1="278.16" x2="393.2" y2="278.16" stroke="#444" stroke-width="0.6"/>
<line x1="392" y1="274.77" x2="393.2" y2="274.77" stroke="#444" stroke-width="0.6"/>
<line x1="392" y1="271.38" x2="393.2" y2="271.38" stroke="#444" stroke-width="0.6"/>
<line x1="392" y1="267.99" x2="393.2" y2="267.99" stroke="#444" stroke-width="0.6"/>
<line x1="392" y1="261.21" x2="393.2" y2="261.21" stroke="#444" stroke-width="0.6"/>
<line x1="392" y1="257.82" x2="393.2" y2="257.82" stroke="#444" stroke-width="0.6"/>
<line x1="392" y1="254.43" x2="393.2" y2="254.43" stroke="#444" stroke-width="0.6"/>
<line x1="392" y1="251.04" x2="393.2" y2="251.04" stroke="#444" stroke-width="0.6"/>
<line x1="392" y1="244.26" x2="393.2" y2="244.26" stroke="#444" stroke-width="0.6"/>
<line x1="392" y1="240.87" x2="393.2" y2="240.87" stroke="#444" stroke-width="0.6"/>
<line x1="392" y1="237.48" x2="393.2" y2="237.48" stroke="#444" stroke-width="0.6"/>
<line x1="392" y1="234.09" x2="393.2" y2="234.09" stroke="#444" stroke-width="0.6"/>
<line x1="392" y1="227.31" x2="393.2" y2="227.31" stroke="#444" stroke-width="0.6"/>
<line x1="392" y1="223.92" x2="393.2" y2="223.92" stroke="#444" stroke-width="0.6"/>
<line x1="392" y1="220.53" x2="393.2" y2="220.53" stroke="#444" stroke-width="0.6"/>
<line x1="392" y1="217.14" x2="393.2" y2="217.14" stroke="#444" stroke-width="0.6"/>
<line x1="392" y1="210.36" x2="393.2" y2="210.36" stroke="#444" stroke-width="0.6"/>
<line x1="392" y1="206.97" x2="393.2" y2="206.97" stroke="#444" stroke-width="0.6"/>
<line x1="392" y1="203.58" x2="393.2" y2="203.58" stroke="#444" stroke-width="0.6"/>
<line x1="399.75" y1="334" x2="399.75" y2="336.2" stroke="#444" stroke-width="0.8"/>
<text transform="translate(404.95 343.8) scale(1.07 1) rotate(-45)" class="xl">GFDL</text>
<line x1="411.37" y1="334" x2="411.37" y2="336.2" stroke="#444" stroke-width="0.8"/>
<text transform="translate(416.57 343.8) scale(1.07 1) rotate(-45)" class="xl">MPI_ESM_HR</text>
<line x1="422.99" y1="334" x2="422.99" y2="336.2" stroke="#444" stroke-width="0.8"/>
<text transform="translate(428.19 343.8) scale(1.07 1) rotate(-45)" class="xl">MRI-ESM2-0</text>
<line x1="434.61" y1="334" x2="434.61" y2="336.2" stroke="#444" stroke-width="0.8"/>
<text transform="translate(439.81 343.8) scale(1.07 1) rotate(-45)" class="xl">MIROC6</text>
<line x1="446.23" y1="334" x2="446.23" y2="336.2" stroke="#444" stroke-width="0.8"/>
<text transform="translate(451.43 343.8) scale(1.07 1) rotate(-45)" class="xl">BCC_CSM</text>
<line x1="457.85" y1="334" x2="457.85" y2="336.2" stroke="#444" stroke-width="0.8"/>
<text transform="translate(463.05 343.8) scale(1.07 1) rotate(-45)" class="xl">INM-CM4-8</text>
<line x1="469.47" y1="334" x2="469.47" y2="336.2" stroke="#444" stroke-width="0.8"/>
<text transform="translate(474.67 343.8) scale(1.07 1) rotate(-45)" class="xl">MPI_ESM_LR</text>
<line x1="481.09" y1="334" x2="481.09" y2="336.2" stroke="#444" stroke-width="0.8"/>
<text transform="translate(486.29 343.8) scale(1.07 1) rotate(-45)" class="xl">NorESM2M</text>
<line x1="492.71" y1="334" x2="492.71" y2="336.2" stroke="#444" stroke-width="0.8"/>
<text transform="translate(497.91 343.8) scale(1.07 1) rotate(-45)" class="xl">GISS</text>
<line x1="504.33" y1="334" x2="504.33" y2="336.2" stroke="#444" stroke-width="0.8"/>
<text transform="translate(509.53 343.8) scale(1.07 1) rotate(-45)" class="xl">IPSL</text>
<line x1="515.95" y1="334" x2="515.95" y2="336.2" stroke="#444" stroke-width="0.8"/>
<text transform="translate(521.15 343.8) scale(1.07 1) rotate(-45)" class="xl">CanESM5</text>
<line x1="527.57" y1="334" x2="527.57" y2="336.2" stroke="#444" stroke-width="0.8"/>
<text transform="translate(532.77 343.8) scale(1.07 1) rotate(-45)" class="xl">KIOST</text>
<line x1="539.19" y1="334" x2="539.19" y2="336.2" stroke="#444" stroke-width="0.8"/>
<text transform="translate(544.39 343.8) scale(1.07 1) rotate(-45)" class="xl">ACCESS</text>
<line x1="393.94" y1="334" x2="393.94" y2="335.2" stroke="#555" stroke-width="0.7"/>
<line x1="405.56" y1="334" x2="405.56" y2="335.2" stroke="#555" stroke-width="0.7"/>
<line x1="417.18" y1="334" x2="417.18" y2="335.2" stroke="#555" stroke-width="0.7"/>
<line x1="428.8" y1="334" x2="428.8" y2="335.2" stroke="#555" stroke-width="0.7"/>
<line x1="440.42" y1="334" x2="440.42" y2="335.2" stroke="#555" stroke-width="0.7"/>
<line x1="452.04" y1="334" x2="452.04" y2="335.2" stroke="#555" stroke-width="0.7"/>
<line x1="463.66" y1="334" x2="463.66" y2="335.2" stroke="#555" stroke-width="0.7"/>
<line x1="475.28" y1="334" x2="475.28" y2="335.2" stroke="#555" stroke-width="0.7"/>
<line x1="486.9" y1="334" x2="486.9" y2="335.2" stroke="#555" stroke-width="0.7"/>
<line x1="498.52" y1="334" x2="498.52" y2="335.2" stroke="#555" stroke-width="0.7"/>
<line x1="510.14" y1="334" x2="510.14" y2="335.2" stroke="#555" stroke-width="0.7"/>
<line x1="521.76" y1="334" x2="521.76" y2="335.2" stroke="#555" stroke-width="0.7"/>
<line x1="533.38" y1="334" x2="533.38" y2="335.2" stroke="#555" stroke-width="0.7"/>
<path d="M393.8 208H429.4" fill="none" stroke="#ff3636" stroke-width="1.25" stroke-dasharray="4.7 4.45"/>
<path d="M428.8 208.6V333.5" fill="none" stroke="#ff3636" stroke-width="1.25" stroke-dasharray="4.9 4.6" stroke-dashoffset="8.05"/>
<path d="M394.4 207.4V333.5" fill="none" stroke="#ff3636" stroke-width="1.25" stroke-dasharray="4.9 4.6"/>
<path d="M394.4 333.5H428.8" fill="none" stroke="#ff3636" stroke-width="1.25" stroke-dasharray="4.7 4.45" stroke-dashoffset="3"/>
<text x="396.6" y="196.4" class="ti" textLength="97.4" lengthAdjust="spacingAndGlyphs">(f) CMIP6 GCM for Tmin</text>
<rect x="452.6" y="201.25" width="6.6" height="4.8" fill="#6563a6"/>
<text x="462.8" y="205.6" class="lg" textLength="30.38" lengthAdjust="spacingAndGlyphs">Annual Tmin</text>
<rect x="452.6" y="208.05" width="6.6" height="4.8" fill="#fcc118"/>
<text x="462.8" y="212.4" class="lg" textLength="32.44" lengthAdjust="spacingAndGlyphs">Autumn Tmin</text>
<rect x="452.6" y="214.85" width="6.6" height="4.8" fill="#ee0d10"/>
<text x="462.8" y="219.2" class="lg" textLength="28.91" lengthAdjust="spacingAndGlyphs">Spring Tmin</text>
<rect x="499.2" y="201.25" width="6.6" height="4.8" fill="#3dbb6b"/>
<text x="508.9" y="205.6" class="lg" textLength="29.59" lengthAdjust="spacingAndGlyphs">Winter Tmin</text>
<rect x="499.2" y="208.05" width="6.6" height="4.8" fill="#2f64a3"/>
<text x="508.9" y="212.4" class="lg" textLength="32.92" lengthAdjust="spacingAndGlyphs">Summer Tmin</text>
</svg>
</body></html>
